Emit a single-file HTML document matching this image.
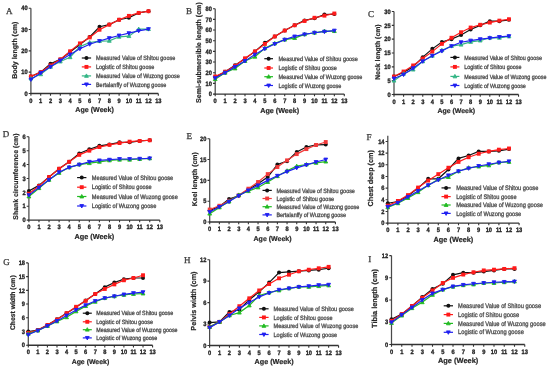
<!DOCTYPE html>
<html><head><meta charset="utf-8"><style>
html,body{margin:0;padding:0;background:#fff;width:550px;height:368px;overflow:hidden}
svg{display:block;filter:blur(0.3px)}
text{text-rendering:geometricPrecision}
.tk{font-family:"Liberation Sans",sans-serif;font-weight:bold;font-size:5.7px;fill:#262626;stroke:#262626;stroke-width:0.3px}
.al{font-family:"Liberation Sans",sans-serif;font-weight:bold;font-size:7.1px;fill:#262626;stroke:#262626;stroke-width:0.2px}
.lg{font-family:"Liberation Sans",sans-serif;font-size:5.5px;fill:#525252;stroke:#525252;stroke-width:0.3px}
.lt{font-family:"Liberation Serif",serif;font-size:9px;fill:#404040;stroke:#404040;stroke-width:0.3px}
</style></head><body>
<svg width="550" height="368" viewBox="0 0 550 368">
<rect width="550" height="368" fill="#fff"/>
<path d="M30.9,8.2V93.5" fill="none" stroke="#4a4a4a" stroke-width="1.25"/>
<path d="M30.3,93.5H158.3" fill="none" stroke="#333333" stroke-width="1.4"/>
<path d="M28.7,93.5H30.9M28.7,72.17H30.9M28.7,50.85H30.9M28.7,29.53H30.9M28.7,8.2H30.9M30.9,93.5V95.7M40.7,93.5V95.7M50.5,93.5V95.7M60.3,93.5V95.7M70.1,93.5V95.7M79.9,93.5V95.7M89.7,93.5V95.7M99.5,93.5V95.7M109.3,93.5V95.7M119.1,93.5V95.7M128.9,93.5V95.7M138.7,93.5V95.7M148.5,93.5V95.7M158.3,93.5V95.7" fill="none" stroke="#333333" stroke-width="1.1"/>
<text transform="translate(27.6,95.7) scale(1,1.12)" class="tk" text-anchor="end">0</text>
<text transform="translate(27.6,74.38) scale(1,1.12)" class="tk" text-anchor="end">10</text>
<text transform="translate(27.6,53.05) scale(1,1.12)" class="tk" text-anchor="end">20</text>
<text transform="translate(27.6,31.73) scale(1,1.12)" class="tk" text-anchor="end">30</text>
<text transform="translate(27.6,10.4) scale(1,1.12)" class="tk" text-anchor="end">40</text>
<text transform="translate(30.9,102.7) scale(1,1.12)" class="tk" text-anchor="middle">0</text>
<text transform="translate(40.7,102.7) scale(1,1.12)" class="tk" text-anchor="middle">1</text>
<text transform="translate(50.5,102.7) scale(1,1.12)" class="tk" text-anchor="middle">2</text>
<text transform="translate(60.3,102.7) scale(1,1.12)" class="tk" text-anchor="middle">3</text>
<text transform="translate(70.1,102.7) scale(1,1.12)" class="tk" text-anchor="middle">4</text>
<text transform="translate(79.9,102.7) scale(1,1.12)" class="tk" text-anchor="middle">5</text>
<text transform="translate(89.7,102.7) scale(1,1.12)" class="tk" text-anchor="middle">6</text>
<text transform="translate(99.5,102.7) scale(1,1.12)" class="tk" text-anchor="middle">7</text>
<text transform="translate(109.3,102.7) scale(1,1.12)" class="tk" text-anchor="middle">8</text>
<text transform="translate(119.1,102.7) scale(1,1.12)" class="tk" text-anchor="middle">9</text>
<text transform="translate(128.9,102.7) scale(1,1.12)" class="tk" text-anchor="middle">10</text>
<text transform="translate(138.7,102.7) scale(1,1.12)" class="tk" text-anchor="middle">11</text>
<text transform="translate(148.5,102.7) scale(1,1.12)" class="tk" text-anchor="middle">12</text>
<text transform="translate(158.3,102.7) scale(1,1.12)" class="tk" text-anchor="middle">13</text>
<text x="94.6" y="112" class="al" text-anchor="middle" style="font-size:7.10px">Age (Week)</text>
<text transform="translate(17.3,50.2) rotate(-90)" class="al" text-anchor="middle" style="font-size:7.0px">Body length (cm)</text>
<text x="6" y="13.6" class="lt">A</text>
<polyline points="30.9,76.44 40.7,72.17 50.5,63.65 60.3,59.38 70.1,51.92 79.9,44.45 89.7,36.99 99.5,26.75 109.3,24.62 119.1,19.72 128.9,17.8 138.7,12.89 148.5,11.19" fill="none" stroke="#111111" stroke-width="1.2"/>
<circle cx="30.9" cy="76.44" r="2" fill="#111111"/>
<circle cx="40.7" cy="72.17" r="2" fill="#111111"/>
<circle cx="50.5" cy="63.65" r="2" fill="#111111"/>
<circle cx="60.3" cy="59.38" r="2" fill="#111111"/>
<circle cx="70.1" cy="51.92" r="2" fill="#111111"/>
<circle cx="79.9" cy="44.45" r="2" fill="#111111"/>
<circle cx="89.7" cy="36.99" r="2" fill="#111111"/>
<circle cx="99.5" cy="26.75" r="2" fill="#111111"/>
<circle cx="109.3" cy="24.62" r="2" fill="#111111"/>
<circle cx="119.1" cy="19.72" r="2" fill="#111111"/>
<circle cx="128.9" cy="17.8" r="2" fill="#111111"/>
<circle cx="138.7" cy="12.89" r="2" fill="#111111"/>
<circle cx="148.5" cy="11.19" r="2" fill="#111111"/>
<polyline points="30.9,76.44 40.7,72.17 50.5,65.35 60.3,59.38 70.1,51.28 79.9,43.39 89.7,37.42 99.5,29.74 109.3,24.62 119.1,19.72 128.9,15.88 138.7,12.89 148.5,11.19" fill="none" stroke="#ff1a1a" stroke-width="1.2"/>
<rect x="28.95" y="74.49" width="3.9" height="3.9" fill="#ff1a1a"/>
<rect x="38.75" y="70.22" width="3.9" height="3.9" fill="#ff1a1a"/>
<rect x="48.55" y="63.4" width="3.9" height="3.9" fill="#ff1a1a"/>
<rect x="58.35" y="57.43" width="3.9" height="3.9" fill="#ff1a1a"/>
<rect x="68.15" y="49.33" width="3.9" height="3.9" fill="#ff1a1a"/>
<rect x="77.95" y="41.44" width="3.9" height="3.9" fill="#ff1a1a"/>
<rect x="87.75" y="35.47" width="3.9" height="3.9" fill="#ff1a1a"/>
<rect x="97.55" y="27.79" width="3.9" height="3.9" fill="#ff1a1a"/>
<rect x="107.35" y="22.67" width="3.9" height="3.9" fill="#ff1a1a"/>
<rect x="117.15" y="17.77" width="3.9" height="3.9" fill="#ff1a1a"/>
<rect x="126.95" y="13.93" width="3.9" height="3.9" fill="#ff1a1a"/>
<rect x="136.75" y="10.94" width="3.9" height="3.9" fill="#ff1a1a"/>
<rect x="146.55" y="9.24" width="3.9" height="3.9" fill="#ff1a1a"/>
<polyline points="30.9,78.57 40.7,74.31 50.5,66.84 60.3,61.51 70.1,57.25 79.9,46.59 89.7,42.53 99.5,41.04 109.3,40.83 119.1,36.78 128.9,36.14 138.7,29.1 148.5,29.1" fill="none" stroke="#33b585" stroke-width="1.2"/>
<polygon points="30.9,76.58 32.8,80 29,80" fill="#33b585" stroke="#33b585" stroke-width="0.9" stroke-linejoin="round"/>
<polygon points="40.7,72.31 42.6,75.73 38.8,75.73" fill="#33b585" stroke="#33b585" stroke-width="0.9" stroke-linejoin="round"/>
<polygon points="50.5,64.85 52.4,68.27 48.6,68.27" fill="#33b585" stroke="#33b585" stroke-width="0.9" stroke-linejoin="round"/>
<polygon points="60.3,59.52 62.2,62.94 58.4,62.94" fill="#33b585" stroke="#33b585" stroke-width="0.9" stroke-linejoin="round"/>
<polygon points="70.1,55.25 72,58.67 68.2,58.67" fill="#33b585" stroke="#33b585" stroke-width="0.9" stroke-linejoin="round"/>
<polygon points="79.9,44.59 81.8,48.01 78,48.01" fill="#33b585" stroke="#33b585" stroke-width="0.9" stroke-linejoin="round"/>
<polygon points="89.7,40.54 91.6,43.96 87.8,43.96" fill="#33b585" stroke="#33b585" stroke-width="0.9" stroke-linejoin="round"/>
<polygon points="99.5,39.05 101.4,42.47 97.6,42.47" fill="#33b585" stroke="#33b585" stroke-width="0.9" stroke-linejoin="round"/>
<polygon points="109.3,38.83 111.2,42.25 107.4,42.25" fill="#33b585" stroke="#33b585" stroke-width="0.9" stroke-linejoin="round"/>
<polygon points="119.1,34.78 121,38.2 117.2,38.2" fill="#33b585" stroke="#33b585" stroke-width="0.9" stroke-linejoin="round"/>
<polygon points="128.9,34.14 130.8,37.56 127,37.56" fill="#33b585" stroke="#33b585" stroke-width="0.9" stroke-linejoin="round"/>
<polygon points="138.7,27.1 140.6,30.52 136.8,30.52" fill="#33b585" stroke="#33b585" stroke-width="0.9" stroke-linejoin="round"/>
<polygon points="148.5,27.1 150.4,30.52 146.6,30.52" fill="#33b585" stroke="#33b585" stroke-width="0.9" stroke-linejoin="round"/>
<polyline points="30.9,79.43 40.7,73.03 50.5,66.84 60.3,60.45 70.1,54.48 79.9,48.72 89.7,44.24 99.5,41.04 109.3,38.06 119.1,35.5 128.9,33.15 138.7,30.8 148.5,29.1" fill="none" stroke="#2020f0" stroke-width="1.2"/>
<polygon points="30.9,81.42 32.8,78 29,78" fill="#2020f0" stroke="#2020f0" stroke-width="0.9" stroke-linejoin="round"/>
<polygon points="40.7,75.02 42.6,71.6 38.8,71.6" fill="#2020f0" stroke="#2020f0" stroke-width="0.9" stroke-linejoin="round"/>
<polygon points="50.5,68.84 52.4,65.42 48.6,65.42" fill="#2020f0" stroke="#2020f0" stroke-width="0.9" stroke-linejoin="round"/>
<polygon points="60.3,62.44 62.2,59.02 58.4,59.02" fill="#2020f0" stroke="#2020f0" stroke-width="0.9" stroke-linejoin="round"/>
<polygon points="70.1,56.47 72,53.05 68.2,53.05" fill="#2020f0" stroke="#2020f0" stroke-width="0.9" stroke-linejoin="round"/>
<polygon points="79.9,50.71 81.8,47.29 78,47.29" fill="#2020f0" stroke="#2020f0" stroke-width="0.9" stroke-linejoin="round"/>
<polygon points="89.7,46.23 91.6,42.81 87.8,42.81" fill="#2020f0" stroke="#2020f0" stroke-width="0.9" stroke-linejoin="round"/>
<polygon points="99.5,43.04 101.4,39.62 97.6,39.62" fill="#2020f0" stroke="#2020f0" stroke-width="0.9" stroke-linejoin="round"/>
<polygon points="109.3,40.05 111.2,36.63 107.4,36.63" fill="#2020f0" stroke="#2020f0" stroke-width="0.9" stroke-linejoin="round"/>
<polygon points="119.1,37.49 121,34.07 117.2,34.07" fill="#2020f0" stroke="#2020f0" stroke-width="0.9" stroke-linejoin="round"/>
<polygon points="128.9,35.15 130.8,31.73 127,31.73" fill="#2020f0" stroke="#2020f0" stroke-width="0.9" stroke-linejoin="round"/>
<polygon points="138.7,32.8 140.6,29.38 136.8,29.38" fill="#2020f0" stroke="#2020f0" stroke-width="0.9" stroke-linejoin="round"/>
<polygon points="148.5,31.09 150.4,27.67 146.6,27.67" fill="#2020f0" stroke="#2020f0" stroke-width="0.9" stroke-linejoin="round"/>
<path d="M81.8,58H91.1" stroke="#111111" stroke-width="1.2"/>
<circle cx="86.45" cy="58" r="2" fill="#111111"/>
<text transform="translate(95.9,60.1) scale(1,1.13)" class="lg" style="font-size:5.5px">Measured Value of Shitou goose</text>
<path d="M81.8,66.9H91.1" stroke="#ff1a1a" stroke-width="1.2"/>
<rect x="84.5" y="64.95" width="3.9" height="3.9" fill="#ff1a1a"/>
<text transform="translate(95.9,69) scale(1,1.13)" class="lg" style="font-size:5.5px">Logistic of Shitou goose</text>
<path d="M81.8,75.9H91.1" stroke="#33b585" stroke-width="1.2"/>
<polygon points="86.45,73.91 88.35,77.33 84.55,77.33" fill="#33b585" stroke="#33b585" stroke-width="0.9" stroke-linejoin="round"/>
<text transform="translate(95.9,78) scale(1,1.13)" class="lg" style="font-size:5.5px">Measured Value of Wuzong goose</text>
<path d="M81.8,84.4H91.1" stroke="#2020f0" stroke-width="1.2"/>
<polygon points="86.45,86.4 88.35,82.98 84.55,82.98" fill="#2020f0" stroke="#2020f0" stroke-width="0.9" stroke-linejoin="round"/>
<text transform="translate(95.9,86.5) scale(1,1.13)" class="lg" style="font-size:5.5px">Bertalanffy of Wuzong goose</text>
<path d="M215.2,8.7V94.1" fill="none" stroke="#4a4a4a" stroke-width="1.25"/>
<path d="M214.6,94.1H344.29" fill="none" stroke="#333333" stroke-width="1.4"/>
<path d="M213,94.1H215.2M213,83.42H215.2M213,72.75H215.2M213,62.07H215.2M213,51.4H215.2M213,40.73H215.2M213,30.05H215.2M213,19.38H215.2M213,8.7H215.2M215.2,94.1V96.3M225.13,94.1V96.3M235.06,94.1V96.3M244.99,94.1V96.3M254.92,94.1V96.3M264.85,94.1V96.3M274.78,94.1V96.3M284.71,94.1V96.3M294.64,94.1V96.3M304.57,94.1V96.3M314.5,94.1V96.3M324.43,94.1V96.3M334.36,94.1V96.3M344.29,94.1V96.3" fill="none" stroke="#333333" stroke-width="1.1"/>
<text transform="translate(211.9,96.3) scale(1,1.12)" class="tk" text-anchor="end">0</text>
<text transform="translate(211.9,85.62) scale(1,1.12)" class="tk" text-anchor="end">10</text>
<text transform="translate(211.9,74.95) scale(1,1.12)" class="tk" text-anchor="end">20</text>
<text transform="translate(211.9,64.27) scale(1,1.12)" class="tk" text-anchor="end">30</text>
<text transform="translate(211.9,53.6) scale(1,1.12)" class="tk" text-anchor="end">40</text>
<text transform="translate(211.9,42.93) scale(1,1.12)" class="tk" text-anchor="end">50</text>
<text transform="translate(211.9,32.25) scale(1,1.12)" class="tk" text-anchor="end">60</text>
<text transform="translate(211.9,21.57) scale(1,1.12)" class="tk" text-anchor="end">70</text>
<text transform="translate(211.9,10.9) scale(1,1.12)" class="tk" text-anchor="end">80</text>
<text transform="translate(215.2,103.3) scale(1,1.12)" class="tk" text-anchor="middle">0</text>
<text transform="translate(225.13,103.3) scale(1,1.12)" class="tk" text-anchor="middle">1</text>
<text transform="translate(235.06,103.3) scale(1,1.12)" class="tk" text-anchor="middle">2</text>
<text transform="translate(244.99,103.3) scale(1,1.12)" class="tk" text-anchor="middle">3</text>
<text transform="translate(254.92,103.3) scale(1,1.12)" class="tk" text-anchor="middle">4</text>
<text transform="translate(264.85,103.3) scale(1,1.12)" class="tk" text-anchor="middle">5</text>
<text transform="translate(274.78,103.3) scale(1,1.12)" class="tk" text-anchor="middle">6</text>
<text transform="translate(284.71,103.3) scale(1,1.12)" class="tk" text-anchor="middle">7</text>
<text transform="translate(294.64,103.3) scale(1,1.12)" class="tk" text-anchor="middle">8</text>
<text transform="translate(304.57,103.3) scale(1,1.12)" class="tk" text-anchor="middle">9</text>
<text transform="translate(314.5,103.3) scale(1,1.12)" class="tk" text-anchor="middle">10</text>
<text transform="translate(324.43,103.3) scale(1,1.12)" class="tk" text-anchor="middle">11</text>
<text transform="translate(334.36,103.3) scale(1,1.12)" class="tk" text-anchor="middle">12</text>
<text transform="translate(344.29,103.3) scale(1,1.12)" class="tk" text-anchor="middle">13</text>
<text x="279.75" y="112.6" class="al" text-anchor="middle" style="font-size:7.19px">Age (Week)</text>
<text transform="translate(200.8,52.6) rotate(-90)" class="al" text-anchor="middle" style="font-size:7.05px">Semi-submersible length (cm)</text>
<text x="186" y="14.1" class="lt">B</text>
<polyline points="215.2,77.02 225.13,71.68 235.06,65.28 244.99,58.87 254.92,51.4 264.85,42.86 274.78,36.45 284.71,30.58 294.64,25.25 304.57,20.44 314.5,18.31 324.43,14.57 334.36,14.04" fill="none" stroke="#111111" stroke-width="1.2"/>
<circle cx="215.2" cy="77.02" r="2" fill="#111111"/>
<circle cx="225.13" cy="71.68" r="2" fill="#111111"/>
<circle cx="235.06" cy="65.28" r="2" fill="#111111"/>
<circle cx="244.99" cy="58.87" r="2" fill="#111111"/>
<circle cx="254.92" cy="51.4" r="2" fill="#111111"/>
<circle cx="264.85" cy="42.86" r="2" fill="#111111"/>
<circle cx="274.78" cy="36.45" r="2" fill="#111111"/>
<circle cx="284.71" cy="30.58" r="2" fill="#111111"/>
<circle cx="294.64" cy="25.25" r="2" fill="#111111"/>
<circle cx="304.57" cy="20.44" r="2" fill="#111111"/>
<circle cx="314.5" cy="18.31" r="2" fill="#111111"/>
<circle cx="324.43" cy="14.57" r="2" fill="#111111"/>
<circle cx="334.36" cy="14.04" r="2" fill="#111111"/>
<polyline points="215.2,76.49 225.13,71.68 235.06,65.81 244.99,58.34 254.92,51.4 264.85,43.93 274.78,36.45 284.71,30.58 294.64,25.25 304.57,20.98 314.5,17.77 324.43,15.64 334.36,13.5" fill="none" stroke="#ff1a1a" stroke-width="1.2"/>
<rect x="213.25" y="74.54" width="3.9" height="3.9" fill="#ff1a1a"/>
<rect x="223.18" y="69.73" width="3.9" height="3.9" fill="#ff1a1a"/>
<rect x="233.11" y="63.86" width="3.9" height="3.9" fill="#ff1a1a"/>
<rect x="243.04" y="56.39" width="3.9" height="3.9" fill="#ff1a1a"/>
<rect x="252.97" y="49.45" width="3.9" height="3.9" fill="#ff1a1a"/>
<rect x="262.9" y="41.98" width="3.9" height="3.9" fill="#ff1a1a"/>
<rect x="272.83" y="34.5" width="3.9" height="3.9" fill="#ff1a1a"/>
<rect x="282.76" y="28.63" width="3.9" height="3.9" fill="#ff1a1a"/>
<rect x="292.69" y="23.3" width="3.9" height="3.9" fill="#ff1a1a"/>
<rect x="302.62" y="19.03" width="3.9" height="3.9" fill="#ff1a1a"/>
<rect x="312.55" y="15.82" width="3.9" height="3.9" fill="#ff1a1a"/>
<rect x="322.48" y="13.69" width="3.9" height="3.9" fill="#ff1a1a"/>
<rect x="332.41" y="11.55" width="3.9" height="3.9" fill="#ff1a1a"/>
<polyline points="215.2,79.16 225.13,72.75 235.06,68.48 244.99,61.01 254.92,56.74 264.85,48.2 274.78,43.39 284.71,39.66 294.64,38.06 304.57,34.32 314.5,32.72 324.43,31.12 334.36,31.12" fill="none" stroke="#22bb22" stroke-width="1.2"/>
<polygon points="215.2,77.16 217.1,80.58 213.3,80.58" fill="#22bb22" stroke="#22bb22" stroke-width="0.9" stroke-linejoin="round"/>
<polygon points="225.13,70.75 227.03,74.17 223.23,74.17" fill="#22bb22" stroke="#22bb22" stroke-width="0.9" stroke-linejoin="round"/>
<polygon points="235.06,66.48 236.96,69.9 233.16,69.9" fill="#22bb22" stroke="#22bb22" stroke-width="0.9" stroke-linejoin="round"/>
<polygon points="244.99,59.01 246.89,62.43 243.09,62.43" fill="#22bb22" stroke="#22bb22" stroke-width="0.9" stroke-linejoin="round"/>
<polygon points="254.92,54.74 256.82,58.16 253.02,58.16" fill="#22bb22" stroke="#22bb22" stroke-width="0.9" stroke-linejoin="round"/>
<polygon points="264.85,46.2 266.75,49.62 262.95,49.62" fill="#22bb22" stroke="#22bb22" stroke-width="0.9" stroke-linejoin="round"/>
<polygon points="274.78,41.4 276.68,44.82 272.88,44.82" fill="#22bb22" stroke="#22bb22" stroke-width="0.9" stroke-linejoin="round"/>
<polygon points="284.71,37.66 286.61,41.08 282.81,41.08" fill="#22bb22" stroke="#22bb22" stroke-width="0.9" stroke-linejoin="round"/>
<polygon points="294.64,36.06 296.54,39.48 292.74,39.48" fill="#22bb22" stroke="#22bb22" stroke-width="0.9" stroke-linejoin="round"/>
<polygon points="304.57,32.33 306.47,35.74 302.67,35.74" fill="#22bb22" stroke="#22bb22" stroke-width="0.9" stroke-linejoin="round"/>
<polygon points="314.5,30.72 316.4,34.14 312.6,34.14" fill="#22bb22" stroke="#22bb22" stroke-width="0.9" stroke-linejoin="round"/>
<polygon points="324.43,29.12 326.33,32.54 322.53,32.54" fill="#22bb22" stroke="#22bb22" stroke-width="0.9" stroke-linejoin="round"/>
<polygon points="334.36,29.12 336.26,32.54 332.46,32.54" fill="#22bb22" stroke="#22bb22" stroke-width="0.9" stroke-linejoin="round"/>
<polyline points="215.2,78.09 225.13,72.75 235.06,66.88 244.99,61.01 254.92,54.6 264.85,48.73 274.78,43.93 284.71,39.66 294.64,36.45 304.57,34.32 314.5,32.72 324.43,31.65 334.36,30.58" fill="none" stroke="#2020f0" stroke-width="1.2"/>
<polygon points="215.2,80.08 217.1,76.66 213.3,76.66" fill="#2020f0" stroke="#2020f0" stroke-width="0.9" stroke-linejoin="round"/>
<polygon points="225.13,74.75 227.03,71.33 223.23,71.33" fill="#2020f0" stroke="#2020f0" stroke-width="0.9" stroke-linejoin="round"/>
<polygon points="235.06,68.87 236.96,65.45 233.16,65.45" fill="#2020f0" stroke="#2020f0" stroke-width="0.9" stroke-linejoin="round"/>
<polygon points="244.99,63 246.89,59.58 243.09,59.58" fill="#2020f0" stroke="#2020f0" stroke-width="0.9" stroke-linejoin="round"/>
<polygon points="254.92,56.6 256.82,53.18 253.02,53.18" fill="#2020f0" stroke="#2020f0" stroke-width="0.9" stroke-linejoin="round"/>
<polygon points="264.85,50.73 266.75,47.31 262.95,47.31" fill="#2020f0" stroke="#2020f0" stroke-width="0.9" stroke-linejoin="round"/>
<polygon points="274.78,45.92 276.68,42.5 272.88,42.5" fill="#2020f0" stroke="#2020f0" stroke-width="0.9" stroke-linejoin="round"/>
<polygon points="284.71,41.65 286.61,38.23 282.81,38.23" fill="#2020f0" stroke="#2020f0" stroke-width="0.9" stroke-linejoin="round"/>
<polygon points="294.64,38.45 296.54,35.03 292.74,35.03" fill="#2020f0" stroke="#2020f0" stroke-width="0.9" stroke-linejoin="round"/>
<polygon points="304.57,36.31 306.47,32.9 302.67,32.9" fill="#2020f0" stroke="#2020f0" stroke-width="0.9" stroke-linejoin="round"/>
<polygon points="314.5,34.71 316.4,31.29 312.6,31.29" fill="#2020f0" stroke="#2020f0" stroke-width="0.9" stroke-linejoin="round"/>
<polygon points="324.43,33.65 326.33,30.23 322.53,30.23" fill="#2020f0" stroke="#2020f0" stroke-width="0.9" stroke-linejoin="round"/>
<polygon points="334.36,32.58 336.26,29.16 332.46,29.16" fill="#2020f0" stroke="#2020f0" stroke-width="0.9" stroke-linejoin="round"/>
<path d="M264.3,58.7H273" stroke="#111111" stroke-width="1.2"/>
<circle cx="268.65" cy="58.7" r="2" fill="#111111"/>
<text transform="translate(278.5,60.8) scale(1,1.13)" class="lg" style="font-size:5.5px">Measured Value of Shitou goose</text>
<path d="M264.3,68H273" stroke="#ff1a1a" stroke-width="1.2"/>
<rect x="266.7" y="66.05" width="3.9" height="3.9" fill="#ff1a1a"/>
<text transform="translate(278.5,70.1) scale(1,1.13)" class="lg" style="font-size:5.5px">Logistic of Shitou goose</text>
<path d="M264.3,76.7H273" stroke="#22bb22" stroke-width="1.2"/>
<polygon points="268.65,74.7 270.55,78.12 266.75,78.12" fill="#22bb22" stroke="#22bb22" stroke-width="0.9" stroke-linejoin="round"/>
<text transform="translate(278.5,78.8) scale(1,1.13)" class="lg" style="font-size:5.5px">Measured Value of Wuzong goose</text>
<path d="M264.3,85.5H273" stroke="#2020f0" stroke-width="1.2"/>
<polygon points="268.65,87.5 270.55,84.08 266.75,84.08" fill="#2020f0" stroke="#2020f0" stroke-width="0.9" stroke-linejoin="round"/>
<text transform="translate(278.5,87.6) scale(1,1.13)" class="lg" style="font-size:5.5px">Logistic of Wuzong goose</text>
<path d="M394,11.5V94.5" fill="none" stroke="#4a4a4a" stroke-width="1.25"/>
<path d="M393.4,94.5H518.54" fill="none" stroke="#333333" stroke-width="1.4"/>
<path d="M391.8,94.5H394M391.8,80.67H394M391.8,66.83H394M391.8,53H394M391.8,39.17H394M391.8,25.33H394M391.8,11.5H394M394,94.5V96.7M403.58,94.5V96.7M413.16,94.5V96.7M422.74,94.5V96.7M432.32,94.5V96.7M441.9,94.5V96.7M451.48,94.5V96.7M461.06,94.5V96.7M470.64,94.5V96.7M480.22,94.5V96.7M489.8,94.5V96.7M499.38,94.5V96.7M508.96,94.5V96.7M518.54,94.5V96.7" fill="none" stroke="#333333" stroke-width="1.1"/>
<text transform="translate(390.7,96.7) scale(1,1.12)" class="tk" text-anchor="end">0</text>
<text transform="translate(390.7,82.87) scale(1,1.12)" class="tk" text-anchor="end">5</text>
<text transform="translate(390.7,69.03) scale(1,1.12)" class="tk" text-anchor="end">10</text>
<text transform="translate(390.7,55.2) scale(1,1.12)" class="tk" text-anchor="end">15</text>
<text transform="translate(390.7,41.37) scale(1,1.12)" class="tk" text-anchor="end">20</text>
<text transform="translate(390.7,27.53) scale(1,1.12)" class="tk" text-anchor="end">25</text>
<text transform="translate(390.7,13.7) scale(1,1.12)" class="tk" text-anchor="end">30</text>
<text transform="translate(394,103.7) scale(1,1.12)" class="tk" text-anchor="middle">0</text>
<text transform="translate(403.58,103.7) scale(1,1.12)" class="tk" text-anchor="middle">1</text>
<text transform="translate(413.16,103.7) scale(1,1.12)" class="tk" text-anchor="middle">2</text>
<text transform="translate(422.74,103.7) scale(1,1.12)" class="tk" text-anchor="middle">3</text>
<text transform="translate(432.32,103.7) scale(1,1.12)" class="tk" text-anchor="middle">4</text>
<text transform="translate(441.9,103.7) scale(1,1.12)" class="tk" text-anchor="middle">5</text>
<text transform="translate(451.48,103.7) scale(1,1.12)" class="tk" text-anchor="middle">6</text>
<text transform="translate(461.06,103.7) scale(1,1.12)" class="tk" text-anchor="middle">7</text>
<text transform="translate(470.64,103.7) scale(1,1.12)" class="tk" text-anchor="middle">8</text>
<text transform="translate(480.22,103.7) scale(1,1.12)" class="tk" text-anchor="middle">9</text>
<text transform="translate(489.8,103.7) scale(1,1.12)" class="tk" text-anchor="middle">10</text>
<text transform="translate(499.38,103.7) scale(1,1.12)" class="tk" text-anchor="middle">11</text>
<text transform="translate(508.96,103.7) scale(1,1.12)" class="tk" text-anchor="middle">12</text>
<text transform="translate(518.54,103.7) scale(1,1.12)" class="tk" text-anchor="middle">13</text>
<text x="456.27" y="113" class="al" text-anchor="middle" style="font-size:6.94px">Age (Week)</text>
<text transform="translate(380.2,52.1) rotate(-90)" class="al" text-anchor="middle" style="font-size:6.9px">Neck length (cm)</text>
<text x="368" y="17.4" class="lt">C</text>
<polyline points="394,76.52 403.58,72.37 413.16,66.83 422.74,57.15 432.32,48.85 441.9,41.93 451.48,39.17 461.06,35.02 470.64,29.48 480.22,25.33 489.8,21.18 499.38,21.18 508.96,19.8" fill="none" stroke="#111111" stroke-width="1.2"/>
<circle cx="394" cy="76.52" r="2" fill="#111111"/>
<circle cx="403.58" cy="72.37" r="2" fill="#111111"/>
<circle cx="413.16" cy="66.83" r="2" fill="#111111"/>
<circle cx="422.74" cy="57.15" r="2" fill="#111111"/>
<circle cx="432.32" cy="48.85" r="2" fill="#111111"/>
<circle cx="441.9" cy="41.93" r="2" fill="#111111"/>
<circle cx="451.48" cy="39.17" r="2" fill="#111111"/>
<circle cx="461.06" cy="35.02" r="2" fill="#111111"/>
<circle cx="470.64" cy="29.48" r="2" fill="#111111"/>
<circle cx="480.22" cy="25.33" r="2" fill="#111111"/>
<circle cx="489.8" cy="21.18" r="2" fill="#111111"/>
<circle cx="499.38" cy="21.18" r="2" fill="#111111"/>
<circle cx="508.96" cy="19.8" r="2" fill="#111111"/>
<polyline points="394,76.52 403.58,71.54 413.16,65.45 422.74,58.53 432.32,51.62 441.9,43.87 451.48,37.78 461.06,32.25 470.64,27.55 480.22,24.78 489.8,22.57 499.38,20.63 508.96,19.25" fill="none" stroke="#ff1a1a" stroke-width="1.2"/>
<rect x="392.05" y="74.57" width="3.9" height="3.9" fill="#ff1a1a"/>
<rect x="401.63" y="69.59" width="3.9" height="3.9" fill="#ff1a1a"/>
<rect x="411.21" y="63.5" width="3.9" height="3.9" fill="#ff1a1a"/>
<rect x="420.79" y="56.58" width="3.9" height="3.9" fill="#ff1a1a"/>
<rect x="430.37" y="49.67" width="3.9" height="3.9" fill="#ff1a1a"/>
<rect x="439.95" y="41.92" width="3.9" height="3.9" fill="#ff1a1a"/>
<rect x="449.53" y="35.83" width="3.9" height="3.9" fill="#ff1a1a"/>
<rect x="459.11" y="30.3" width="3.9" height="3.9" fill="#ff1a1a"/>
<rect x="468.69" y="25.6" width="3.9" height="3.9" fill="#ff1a1a"/>
<rect x="478.27" y="22.83" width="3.9" height="3.9" fill="#ff1a1a"/>
<rect x="487.85" y="20.62" width="3.9" height="3.9" fill="#ff1a1a"/>
<rect x="497.43" y="18.68" width="3.9" height="3.9" fill="#ff1a1a"/>
<rect x="507.01" y="17.3" width="3.9" height="3.9" fill="#ff1a1a"/>
<polyline points="394,80.67 403.58,73.75 413.16,69.6 422.74,61.3 432.32,55.77 441.9,50.23 451.48,46.08 461.06,44.7 470.64,41.93 480.22,40.55 489.8,37.78 499.38,37.78 508.96,36.4" fill="none" stroke="#33b585" stroke-width="1.2"/>
<polygon points="394,78.67 395.9,82.09 392.1,82.09" fill="#33b585" stroke="#33b585" stroke-width="0.9" stroke-linejoin="round"/>
<polygon points="403.58,71.75 405.48,75.17 401.68,75.17" fill="#33b585" stroke="#33b585" stroke-width="0.9" stroke-linejoin="round"/>
<polygon points="413.16,67.6 415.06,71.02 411.26,71.02" fill="#33b585" stroke="#33b585" stroke-width="0.9" stroke-linejoin="round"/>
<polygon points="422.74,59.3 424.64,62.72 420.84,62.72" fill="#33b585" stroke="#33b585" stroke-width="0.9" stroke-linejoin="round"/>
<polygon points="432.32,53.77 434.22,57.19 430.42,57.19" fill="#33b585" stroke="#33b585" stroke-width="0.9" stroke-linejoin="round"/>
<polygon points="441.9,48.24 443.8,51.66 440,51.66" fill="#33b585" stroke="#33b585" stroke-width="0.9" stroke-linejoin="round"/>
<polygon points="451.48,44.09 453.38,47.51 449.58,47.51" fill="#33b585" stroke="#33b585" stroke-width="0.9" stroke-linejoin="round"/>
<polygon points="461.06,42.71 462.96,46.12 459.16,46.12" fill="#33b585" stroke="#33b585" stroke-width="0.9" stroke-linejoin="round"/>
<polygon points="470.64,39.94 472.54,43.36 468.74,43.36" fill="#33b585" stroke="#33b585" stroke-width="0.9" stroke-linejoin="round"/>
<polygon points="480.22,38.56 482.12,41.98 478.32,41.98" fill="#33b585" stroke="#33b585" stroke-width="0.9" stroke-linejoin="round"/>
<polygon points="489.8,35.79 491.7,39.21 487.9,39.21" fill="#33b585" stroke="#33b585" stroke-width="0.9" stroke-linejoin="round"/>
<polygon points="499.38,35.79 501.28,39.21 497.48,39.21" fill="#33b585" stroke="#33b585" stroke-width="0.9" stroke-linejoin="round"/>
<polygon points="508.96,34.41 510.86,37.82 507.06,37.82" fill="#33b585" stroke="#33b585" stroke-width="0.9" stroke-linejoin="round"/>
<polyline points="394,78.45 403.58,74.58 413.16,68.22 422.74,61.3 432.32,55.77 441.9,51.06 451.48,46.08 461.06,42.21 470.64,40.55 480.22,39.17 489.8,38.06 499.38,36.95 508.96,36.12" fill="none" stroke="#2020f0" stroke-width="1.2"/>
<polygon points="394,80.45 395.9,77.03 392.1,77.03" fill="#2020f0" stroke="#2020f0" stroke-width="0.9" stroke-linejoin="round"/>
<polygon points="403.58,76.58 405.48,73.16 401.68,73.16" fill="#2020f0" stroke="#2020f0" stroke-width="0.9" stroke-linejoin="round"/>
<polygon points="413.16,70.21 415.06,66.79 411.26,66.79" fill="#2020f0" stroke="#2020f0" stroke-width="0.9" stroke-linejoin="round"/>
<polygon points="422.74,63.29 424.64,59.88 420.84,59.88" fill="#2020f0" stroke="#2020f0" stroke-width="0.9" stroke-linejoin="round"/>
<polygon points="432.32,57.76 434.22,54.34 430.42,54.34" fill="#2020f0" stroke="#2020f0" stroke-width="0.9" stroke-linejoin="round"/>
<polygon points="441.9,53.06 443.8,49.64 440,49.64" fill="#2020f0" stroke="#2020f0" stroke-width="0.9" stroke-linejoin="round"/>
<polygon points="451.48,48.08 453.38,44.66 449.58,44.66" fill="#2020f0" stroke="#2020f0" stroke-width="0.9" stroke-linejoin="round"/>
<polygon points="461.06,44.21 462.96,40.79 459.16,40.79" fill="#2020f0" stroke="#2020f0" stroke-width="0.9" stroke-linejoin="round"/>
<polygon points="470.64,42.55 472.54,39.13 468.74,39.13" fill="#2020f0" stroke="#2020f0" stroke-width="0.9" stroke-linejoin="round"/>
<polygon points="480.22,41.16 482.12,37.74 478.32,37.74" fill="#2020f0" stroke="#2020f0" stroke-width="0.9" stroke-linejoin="round"/>
<polygon points="489.8,40.05 491.7,36.64 487.9,36.64" fill="#2020f0" stroke="#2020f0" stroke-width="0.9" stroke-linejoin="round"/>
<polygon points="499.38,38.95 501.28,35.53 497.48,35.53" fill="#2020f0" stroke="#2020f0" stroke-width="0.9" stroke-linejoin="round"/>
<polygon points="508.96,38.12 510.86,34.7 507.06,34.7" fill="#2020f0" stroke="#2020f0" stroke-width="0.9" stroke-linejoin="round"/>
<path d="M450.4,57.4H459.4" stroke="#111111" stroke-width="1.2"/>
<circle cx="454.9" cy="57.4" r="2" fill="#111111"/>
<text transform="translate(464.2,59.5) scale(1,1.13)" class="lg" style="font-size:5.4px">Measured Value of Shitou goose</text>
<path d="M450.4,66.9H459.4" stroke="#ff1a1a" stroke-width="1.2"/>
<rect x="452.95" y="64.95" width="3.9" height="3.9" fill="#ff1a1a"/>
<text transform="translate(464.2,69) scale(1,1.13)" class="lg" style="font-size:5.4px">Logistic of Shitou goose</text>
<path d="M450.4,76.4H459.4" stroke="#33b585" stroke-width="1.2"/>
<polygon points="454.9,74.41 456.8,77.83 453,77.83" fill="#33b585" stroke="#33b585" stroke-width="0.9" stroke-linejoin="round"/>
<text transform="translate(464.2,78.5) scale(1,1.13)" class="lg" style="font-size:5.4px">Measured Value of Wuzong goose</text>
<path d="M450.4,85.5H459.4" stroke="#2020f0" stroke-width="1.2"/>
<polygon points="454.9,87.5 456.8,84.08 453,84.08" fill="#2020f0" stroke="#2020f0" stroke-width="0.9" stroke-linejoin="round"/>
<text transform="translate(464.2,87.6) scale(1,1.13)" class="lg" style="font-size:5.4px">Logistic of Wuzong goose</text>
<path d="M28.9,136.8V220.1" fill="none" stroke="#4a4a4a" stroke-width="1.25"/>
<path d="M28.3,220.1H159.81" fill="none" stroke="#333333" stroke-width="1.4"/>
<path d="M26.7,220.1H28.9M26.7,206.22H28.9M26.7,192.33H28.9M26.7,178.45H28.9M26.7,164.57H28.9M26.7,150.68H28.9M26.7,136.8H28.9M28.9,220.1V222.3M38.97,220.1V222.3M49.04,220.1V222.3M59.11,220.1V222.3M69.18,220.1V222.3M79.25,220.1V222.3M89.32,220.1V222.3M99.39,220.1V222.3M109.46,220.1V222.3M119.53,220.1V222.3M129.6,220.1V222.3M139.67,220.1V222.3M149.74,220.1V222.3M159.81,220.1V222.3" fill="none" stroke="#333333" stroke-width="1.1"/>
<text transform="translate(25.6,222.3) scale(1,1.12)" class="tk" text-anchor="end">0</text>
<text transform="translate(25.6,208.42) scale(1,1.12)" class="tk" text-anchor="end">1</text>
<text transform="translate(25.6,194.53) scale(1,1.12)" class="tk" text-anchor="end">2</text>
<text transform="translate(25.6,180.65) scale(1,1.12)" class="tk" text-anchor="end">3</text>
<text transform="translate(25.6,166.77) scale(1,1.12)" class="tk" text-anchor="end">4</text>
<text transform="translate(25.6,152.88) scale(1,1.12)" class="tk" text-anchor="end">5</text>
<text transform="translate(25.6,139) scale(1,1.12)" class="tk" text-anchor="end">6</text>
<text transform="translate(28.9,229.3) scale(1,1.12)" class="tk" text-anchor="middle">0</text>
<text transform="translate(38.97,229.3) scale(1,1.12)" class="tk" text-anchor="middle">1</text>
<text transform="translate(49.04,229.3) scale(1,1.12)" class="tk" text-anchor="middle">2</text>
<text transform="translate(59.11,229.3) scale(1,1.12)" class="tk" text-anchor="middle">3</text>
<text transform="translate(69.18,229.3) scale(1,1.12)" class="tk" text-anchor="middle">4</text>
<text transform="translate(79.25,229.3) scale(1,1.12)" class="tk" text-anchor="middle">5</text>
<text transform="translate(89.32,229.3) scale(1,1.12)" class="tk" text-anchor="middle">6</text>
<text transform="translate(99.39,229.3) scale(1,1.12)" class="tk" text-anchor="middle">7</text>
<text transform="translate(109.46,229.3) scale(1,1.12)" class="tk" text-anchor="middle">8</text>
<text transform="translate(119.53,229.3) scale(1,1.12)" class="tk" text-anchor="middle">9</text>
<text transform="translate(129.6,229.3) scale(1,1.12)" class="tk" text-anchor="middle">10</text>
<text transform="translate(139.67,229.3) scale(1,1.12)" class="tk" text-anchor="middle">11</text>
<text transform="translate(149.74,229.3) scale(1,1.12)" class="tk" text-anchor="middle">12</text>
<text transform="translate(159.81,229.3) scale(1,1.12)" class="tk" text-anchor="middle">13</text>
<text x="94.35" y="238.6" class="al" text-anchor="middle" style="font-size:7.30px">Age (Week)</text>
<text transform="translate(18.2,176.6) rotate(-90)" class="al" text-anchor="middle" style="font-size:6.9px">Shank circumference (cm)</text>
<text x="2.7" y="137" class="lt">D</text>
<polyline points="28.9,190.94 38.97,185.39 49.04,177.06 59.11,168.73 69.18,161.79 79.25,153.46 89.32,149.3 99.39,145.82 109.46,144.44 119.53,142.35 129.6,142.35 139.67,140.97 149.74,140.27" fill="none" stroke="#111111" stroke-width="1.2"/>
<circle cx="28.9" cy="190.94" r="2" fill="#111111"/>
<circle cx="38.97" cy="185.39" r="2" fill="#111111"/>
<circle cx="49.04" cy="177.06" r="2" fill="#111111"/>
<circle cx="59.11" cy="168.73" r="2" fill="#111111"/>
<circle cx="69.18" cy="161.79" r="2" fill="#111111"/>
<circle cx="79.25" cy="153.46" r="2" fill="#111111"/>
<circle cx="89.32" cy="149.3" r="2" fill="#111111"/>
<circle cx="99.39" cy="145.82" r="2" fill="#111111"/>
<circle cx="109.46" cy="144.44" r="2" fill="#111111"/>
<circle cx="119.53" cy="142.35" r="2" fill="#111111"/>
<circle cx="129.6" cy="142.35" r="2" fill="#111111"/>
<circle cx="139.67" cy="140.97" r="2" fill="#111111"/>
<circle cx="149.74" cy="140.27" r="2" fill="#111111"/>
<polyline points="28.9,193.72 38.97,186.09 49.04,177.06 59.11,168.73 69.18,161.79 79.25,154.85 89.32,150.68 99.39,147.07 109.46,144.85 119.53,143.05 129.6,141.66 139.67,140.97 149.74,140.27" fill="none" stroke="#ff1a1a" stroke-width="1.2"/>
<rect x="26.95" y="191.77" width="3.9" height="3.9" fill="#ff1a1a"/>
<rect x="37.02" y="184.14" width="3.9" height="3.9" fill="#ff1a1a"/>
<rect x="47.09" y="175.11" width="3.9" height="3.9" fill="#ff1a1a"/>
<rect x="57.16" y="166.78" width="3.9" height="3.9" fill="#ff1a1a"/>
<rect x="67.23" y="159.84" width="3.9" height="3.9" fill="#ff1a1a"/>
<rect x="77.3" y="152.9" width="3.9" height="3.9" fill="#ff1a1a"/>
<rect x="87.37" y="148.73" width="3.9" height="3.9" fill="#ff1a1a"/>
<rect x="97.44" y="145.12" width="3.9" height="3.9" fill="#ff1a1a"/>
<rect x="107.51" y="142.9" width="3.9" height="3.9" fill="#ff1a1a"/>
<rect x="117.58" y="141.1" width="3.9" height="3.9" fill="#ff1a1a"/>
<rect x="127.65" y="139.71" width="3.9" height="3.9" fill="#ff1a1a"/>
<rect x="137.72" y="139.02" width="3.9" height="3.9" fill="#ff1a1a"/>
<rect x="147.79" y="138.32" width="3.9" height="3.9" fill="#ff1a1a"/>
<polyline points="28.9,196.5 38.97,188.17 49.04,179.84 59.11,172.9 69.18,167.34 79.25,164.57 89.32,163.18 99.39,161.79 109.46,160.4 119.53,159.71 129.6,159.71 139.67,159.01 149.74,158.32" fill="none" stroke="#22bb22" stroke-width="1.2"/>
<polygon points="28.9,194.5 30.8,197.92 27,197.92" fill="#22bb22" stroke="#22bb22" stroke-width="0.9" stroke-linejoin="round"/>
<polygon points="38.97,186.17 40.87,189.59 37.07,189.59" fill="#22bb22" stroke="#22bb22" stroke-width="0.9" stroke-linejoin="round"/>
<polygon points="49.04,177.84 50.94,181.26 47.14,181.26" fill="#22bb22" stroke="#22bb22" stroke-width="0.9" stroke-linejoin="round"/>
<polygon points="59.11,170.9 61.01,174.32 57.21,174.32" fill="#22bb22" stroke="#22bb22" stroke-width="0.9" stroke-linejoin="round"/>
<polygon points="69.18,165.35 71.08,168.77 67.28,168.77" fill="#22bb22" stroke="#22bb22" stroke-width="0.9" stroke-linejoin="round"/>
<polygon points="79.25,162.57 81.15,165.99 77.35,165.99" fill="#22bb22" stroke="#22bb22" stroke-width="0.9" stroke-linejoin="round"/>
<polygon points="89.32,161.18 91.22,164.6 87.42,164.6" fill="#22bb22" stroke="#22bb22" stroke-width="0.9" stroke-linejoin="round"/>
<polygon points="99.39,159.79 101.29,163.22 97.49,163.22" fill="#22bb22" stroke="#22bb22" stroke-width="0.9" stroke-linejoin="round"/>
<polygon points="109.46,158.41 111.36,161.83 107.56,161.83" fill="#22bb22" stroke="#22bb22" stroke-width="0.9" stroke-linejoin="round"/>
<polygon points="119.53,157.71 121.43,161.13 117.63,161.13" fill="#22bb22" stroke="#22bb22" stroke-width="0.9" stroke-linejoin="round"/>
<polygon points="129.6,157.71 131.5,161.13 127.7,161.13" fill="#22bb22" stroke="#22bb22" stroke-width="0.9" stroke-linejoin="round"/>
<polygon points="139.67,157.02 141.57,160.44 137.77,160.44" fill="#22bb22" stroke="#22bb22" stroke-width="0.9" stroke-linejoin="round"/>
<polygon points="149.74,156.32 151.64,159.74 147.84,159.74" fill="#22bb22" stroke="#22bb22" stroke-width="0.9" stroke-linejoin="round"/>
<polyline points="28.9,195.11 38.97,187.47 49.04,179.84 59.11,172.2 69.18,167.34 79.25,164.57 89.32,161.79 99.39,160.4 109.46,159.71 119.53,159.01 129.6,159.01 139.67,158.74 149.74,158.32" fill="none" stroke="#2020f0" stroke-width="1.2"/>
<polygon points="28.9,197.11 30.8,193.69 27,193.69" fill="#2020f0" stroke="#2020f0" stroke-width="0.9" stroke-linejoin="round"/>
<polygon points="38.97,189.47 40.87,186.05 37.07,186.05" fill="#2020f0" stroke="#2020f0" stroke-width="0.9" stroke-linejoin="round"/>
<polygon points="49.04,181.83 50.94,178.41 47.14,178.41" fill="#2020f0" stroke="#2020f0" stroke-width="0.9" stroke-linejoin="round"/>
<polygon points="59.11,174.2 61.01,170.78 57.21,170.78" fill="#2020f0" stroke="#2020f0" stroke-width="0.9" stroke-linejoin="round"/>
<polygon points="69.18,169.34 71.08,165.92 67.28,165.92" fill="#2020f0" stroke="#2020f0" stroke-width="0.9" stroke-linejoin="round"/>
<polygon points="79.25,166.56 81.15,163.14 77.35,163.14" fill="#2020f0" stroke="#2020f0" stroke-width="0.9" stroke-linejoin="round"/>
<polygon points="89.32,163.78 91.22,160.36 87.42,160.36" fill="#2020f0" stroke="#2020f0" stroke-width="0.9" stroke-linejoin="round"/>
<polygon points="99.39,162.4 101.29,158.98 97.49,158.98" fill="#2020f0" stroke="#2020f0" stroke-width="0.9" stroke-linejoin="round"/>
<polygon points="109.46,161.7 111.36,158.28 107.56,158.28" fill="#2020f0" stroke="#2020f0" stroke-width="0.9" stroke-linejoin="round"/>
<polygon points="119.53,161.01 121.43,157.59 117.63,157.59" fill="#2020f0" stroke="#2020f0" stroke-width="0.9" stroke-linejoin="round"/>
<polygon points="129.6,161.01 131.5,157.59 127.7,157.59" fill="#2020f0" stroke="#2020f0" stroke-width="0.9" stroke-linejoin="round"/>
<polygon points="139.67,160.73 141.57,157.31 137.77,157.31" fill="#2020f0" stroke="#2020f0" stroke-width="0.9" stroke-linejoin="round"/>
<polygon points="149.74,160.31 151.64,156.89 147.84,156.89" fill="#2020f0" stroke="#2020f0" stroke-width="0.9" stroke-linejoin="round"/>
<path d="M77.1,177.6H86.4" stroke="#111111" stroke-width="1.2"/>
<circle cx="81.75" cy="177.6" r="2" fill="#111111"/>
<text transform="translate(91.8,179.7) scale(1,1.13)" class="lg" style="font-size:5.65px">Measured Value of Shitou goose</text>
<path d="M77.1,187.2H86.4" stroke="#ff1a1a" stroke-width="1.2"/>
<rect x="79.8" y="185.25" width="3.9" height="3.9" fill="#ff1a1a"/>
<text transform="translate(91.8,189.3) scale(1,1.13)" class="lg" style="font-size:5.65px">Logistic of Shitou goose</text>
<path d="M77.1,196.5H86.4" stroke="#22bb22" stroke-width="1.2"/>
<polygon points="81.75,194.5 83.65,197.93 79.85,197.93" fill="#22bb22" stroke="#22bb22" stroke-width="0.9" stroke-linejoin="round"/>
<text transform="translate(91.8,198.6) scale(1,1.13)" class="lg" style="font-size:5.65px">Measured Value of Wuzong goose</text>
<path d="M77.1,206H86.4" stroke="#2020f0" stroke-width="1.2"/>
<polygon points="81.75,208 83.65,204.57 79.85,204.57" fill="#2020f0" stroke="#2020f0" stroke-width="0.9" stroke-linejoin="round"/>
<text transform="translate(91.8,208.1) scale(1,1.13)" class="lg" style="font-size:5.65px">Logistic of Wuzong goose</text>
<path d="M209.7,138.7V222" fill="none" stroke="#4a4a4a" stroke-width="1.25"/>
<path d="M209.1,222H335.41" fill="none" stroke="#333333" stroke-width="1.4"/>
<path d="M207.5,222H209.7M207.5,201.18H209.7M207.5,180.35H209.7M207.5,159.52H209.7M207.5,138.7H209.7M209.7,222V224.2M219.37,222V224.2M229.04,222V224.2M238.71,222V224.2M248.38,222V224.2M258.05,222V224.2M267.72,222V224.2M277.39,222V224.2M287.06,222V224.2M296.73,222V224.2M306.4,222V224.2M316.07,222V224.2M325.74,222V224.2M335.41,222V224.2" fill="none" stroke="#333333" stroke-width="1.1"/>
<text transform="translate(206.4,224.2) scale(1,1.12)" class="tk" text-anchor="end">0</text>
<text transform="translate(206.4,203.38) scale(1,1.12)" class="tk" text-anchor="end">5</text>
<text transform="translate(206.4,182.55) scale(1,1.12)" class="tk" text-anchor="end">10</text>
<text transform="translate(206.4,161.72) scale(1,1.12)" class="tk" text-anchor="end">15</text>
<text transform="translate(206.4,140.9) scale(1,1.12)" class="tk" text-anchor="end">20</text>
<text transform="translate(209.7,231.2) scale(1,1.12)" class="tk" text-anchor="middle">0</text>
<text transform="translate(219.37,231.2) scale(1,1.12)" class="tk" text-anchor="middle">1</text>
<text transform="translate(229.04,231.2) scale(1,1.12)" class="tk" text-anchor="middle">2</text>
<text transform="translate(238.71,231.2) scale(1,1.12)" class="tk" text-anchor="middle">3</text>
<text transform="translate(248.38,231.2) scale(1,1.12)" class="tk" text-anchor="middle">4</text>
<text transform="translate(258.05,231.2) scale(1,1.12)" class="tk" text-anchor="middle">5</text>
<text transform="translate(267.72,231.2) scale(1,1.12)" class="tk" text-anchor="middle">6</text>
<text transform="translate(277.39,231.2) scale(1,1.12)" class="tk" text-anchor="middle">7</text>
<text transform="translate(287.06,231.2) scale(1,1.12)" class="tk" text-anchor="middle">8</text>
<text transform="translate(296.73,231.2) scale(1,1.12)" class="tk" text-anchor="middle">9</text>
<text transform="translate(306.4,231.2) scale(1,1.12)" class="tk" text-anchor="middle">10</text>
<text transform="translate(316.07,231.2) scale(1,1.12)" class="tk" text-anchor="middle">11</text>
<text transform="translate(325.74,231.2) scale(1,1.12)" class="tk" text-anchor="middle">12</text>
<text transform="translate(335.41,231.2) scale(1,1.12)" class="tk" text-anchor="middle">13</text>
<text x="272.56" y="240.5" class="al" text-anchor="middle" style="font-size:7.01px">Age (Week)</text>
<text transform="translate(196.5,179.2) rotate(-90)" class="al" text-anchor="middle" style="font-size:6.95px">Keel length (cm)</text>
<text x="186.5" y="138.6" class="lt">E</text>
<polyline points="209.7,210.34 219.37,206.59 229.04,199.09 238.71,195.76 248.38,189.51 258.05,183.68 267.72,177.02 277.39,164.52 287.06,161.19 296.73,152.03 306.4,147.03 316.07,144.95 325.74,144.53" fill="none" stroke="#111111" stroke-width="1.2"/>
<circle cx="209.7" cy="210.34" r="2" fill="#111111"/>
<circle cx="219.37" cy="206.59" r="2" fill="#111111"/>
<circle cx="229.04" cy="199.09" r="2" fill="#111111"/>
<circle cx="238.71" cy="195.76" r="2" fill="#111111"/>
<circle cx="248.38" cy="189.51" r="2" fill="#111111"/>
<circle cx="258.05" cy="183.68" r="2" fill="#111111"/>
<circle cx="267.72" cy="177.02" r="2" fill="#111111"/>
<circle cx="277.39" cy="164.52" r="2" fill="#111111"/>
<circle cx="287.06" cy="161.19" r="2" fill="#111111"/>
<circle cx="296.73" cy="152.03" r="2" fill="#111111"/>
<circle cx="306.4" cy="147.03" r="2" fill="#111111"/>
<circle cx="316.07" cy="144.95" r="2" fill="#111111"/>
<circle cx="325.74" cy="144.53" r="2" fill="#111111"/>
<polyline points="209.7,209.5 219.37,205.76 229.04,200.76 238.71,195.34 248.38,188.68 258.05,182.02 267.72,174.1 277.39,167.02 287.06,160.36 296.73,154.11 306.4,149.11 316.07,144.95 325.74,142.03" fill="none" stroke="#f23a3a" stroke-width="1.2"/>
<rect x="207.75" y="207.56" width="3.9" height="3.9" fill="#f23a3a"/>
<rect x="217.42" y="203.81" width="3.9" height="3.9" fill="#f23a3a"/>
<rect x="227.09" y="198.81" width="3.9" height="3.9" fill="#f23a3a"/>
<rect x="236.76" y="193.39" width="3.9" height="3.9" fill="#f23a3a"/>
<rect x="246.43" y="186.73" width="3.9" height="3.9" fill="#f23a3a"/>
<rect x="256.1" y="180.07" width="3.9" height="3.9" fill="#f23a3a"/>
<rect x="265.77" y="172.15" width="3.9" height="3.9" fill="#f23a3a"/>
<rect x="275.44" y="165.07" width="3.9" height="3.9" fill="#f23a3a"/>
<rect x="285.11" y="158.41" width="3.9" height="3.9" fill="#f23a3a"/>
<rect x="294.78" y="152.16" width="3.9" height="3.9" fill="#f23a3a"/>
<rect x="304.45" y="147.16" width="3.9" height="3.9" fill="#f23a3a"/>
<rect x="314.12" y="143" width="3.9" height="3.9" fill="#f23a3a"/>
<rect x="323.79" y="140.08" width="3.9" height="3.9" fill="#f23a3a"/>
<polyline points="209.7,213.67 219.37,207.42 229.04,201.59 238.71,194.93 248.38,191.18 258.05,187.43 267.72,182.02 277.39,176.19 287.06,170.77 296.73,166.19 306.4,164.52 316.07,162.86 325.74,161.61" fill="none" stroke="#22bb22" stroke-width="1.2"/>
<polygon points="209.7,211.67 211.6,215.09 207.8,215.09" fill="#22bb22" stroke="#22bb22" stroke-width="0.9" stroke-linejoin="round"/>
<polygon points="219.37,205.43 221.27,208.85 217.47,208.85" fill="#22bb22" stroke="#22bb22" stroke-width="0.9" stroke-linejoin="round"/>
<polygon points="229.04,199.6 230.94,203.02 227.14,203.02" fill="#22bb22" stroke="#22bb22" stroke-width="0.9" stroke-linejoin="round"/>
<polygon points="238.71,192.93 240.61,196.35 236.81,196.35" fill="#22bb22" stroke="#22bb22" stroke-width="0.9" stroke-linejoin="round"/>
<polygon points="248.38,189.18 250.28,192.6 246.48,192.6" fill="#22bb22" stroke="#22bb22" stroke-width="0.9" stroke-linejoin="round"/>
<polygon points="258.05,185.44 259.95,188.86 256.15,188.86" fill="#22bb22" stroke="#22bb22" stroke-width="0.9" stroke-linejoin="round"/>
<polygon points="267.72,180.02 269.62,183.44 265.82,183.44" fill="#22bb22" stroke="#22bb22" stroke-width="0.9" stroke-linejoin="round"/>
<polygon points="277.39,174.19 279.29,177.61 275.49,177.61" fill="#22bb22" stroke="#22bb22" stroke-width="0.9" stroke-linejoin="round"/>
<polygon points="287.06,168.78 288.96,172.2 285.16,172.2" fill="#22bb22" stroke="#22bb22" stroke-width="0.9" stroke-linejoin="round"/>
<polygon points="296.73,164.19 298.63,167.61 294.83,167.61" fill="#22bb22" stroke="#22bb22" stroke-width="0.9" stroke-linejoin="round"/>
<polygon points="306.4,162.53 308.3,165.95 304.5,165.95" fill="#22bb22" stroke="#22bb22" stroke-width="0.9" stroke-linejoin="round"/>
<polygon points="316.07,160.86 317.97,164.28 314.17,164.28" fill="#22bb22" stroke="#22bb22" stroke-width="0.9" stroke-linejoin="round"/>
<polygon points="325.74,159.61 327.64,163.03 323.84,163.03" fill="#22bb22" stroke="#22bb22" stroke-width="0.9" stroke-linejoin="round"/>
<polyline points="209.7,212 219.37,207.01 229.04,201.59 238.71,195.76 248.38,190.35 258.05,185.35 267.72,180.35 277.39,175.77 287.06,171.6 296.73,167.85 306.4,164.94 316.07,162.02 325.74,159.52" fill="none" stroke="#2020f0" stroke-width="1.2"/>
<polygon points="209.7,214 211.6,210.58 207.8,210.58" fill="#2020f0" stroke="#2020f0" stroke-width="0.9" stroke-linejoin="round"/>
<polygon points="219.37,209 221.27,205.58 217.47,205.58" fill="#2020f0" stroke="#2020f0" stroke-width="0.9" stroke-linejoin="round"/>
<polygon points="229.04,203.59 230.94,200.17 227.14,200.17" fill="#2020f0" stroke="#2020f0" stroke-width="0.9" stroke-linejoin="round"/>
<polygon points="238.71,197.76 240.61,194.34 236.81,194.34" fill="#2020f0" stroke="#2020f0" stroke-width="0.9" stroke-linejoin="round"/>
<polygon points="248.38,192.34 250.28,188.92 246.48,188.92" fill="#2020f0" stroke="#2020f0" stroke-width="0.9" stroke-linejoin="round"/>
<polygon points="258.05,187.34 259.95,183.92 256.15,183.92" fill="#2020f0" stroke="#2020f0" stroke-width="0.9" stroke-linejoin="round"/>
<polygon points="267.72,182.34 269.62,178.92 265.82,178.92" fill="#2020f0" stroke="#2020f0" stroke-width="0.9" stroke-linejoin="round"/>
<polygon points="277.39,177.76 279.29,174.34 275.49,174.34" fill="#2020f0" stroke="#2020f0" stroke-width="0.9" stroke-linejoin="round"/>
<polygon points="287.06,173.6 288.96,170.18 285.16,170.18" fill="#2020f0" stroke="#2020f0" stroke-width="0.9" stroke-linejoin="round"/>
<polygon points="296.73,169.85 298.63,166.43 294.83,166.43" fill="#2020f0" stroke="#2020f0" stroke-width="0.9" stroke-linejoin="round"/>
<polygon points="306.4,166.93 308.3,163.51 304.5,163.51" fill="#2020f0" stroke="#2020f0" stroke-width="0.9" stroke-linejoin="round"/>
<polygon points="316.07,164.02 317.97,160.6 314.17,160.6" fill="#2020f0" stroke="#2020f0" stroke-width="0.9" stroke-linejoin="round"/>
<polygon points="325.74,161.52 327.64,158.1 323.84,158.1" fill="#2020f0" stroke="#2020f0" stroke-width="0.9" stroke-linejoin="round"/>
<path d="M262.5,190.4H271.8" stroke="#111111" stroke-width="1.2"/>
<circle cx="267.15" cy="190.4" r="2" fill="#111111"/>
<text transform="translate(276.4,192.5) scale(1,1.13)" class="lg" style="font-size:5.44px">Measured Value of Shitou goose</text>
<path d="M262.5,198.5H271.8" stroke="#f23a3a" stroke-width="1.2"/>
<rect x="265.2" y="196.55" width="3.9" height="3.9" fill="#f23a3a"/>
<text transform="translate(276.4,200.6) scale(1,1.13)" class="lg" style="font-size:5.44px">Logistic of Shitou goose</text>
<path d="M262.5,206.7H271.8" stroke="#22bb22" stroke-width="1.2"/>
<polygon points="267.15,204.7 269.05,208.12 265.25,208.12" fill="#22bb22" stroke="#22bb22" stroke-width="0.9" stroke-linejoin="round"/>
<text transform="translate(276.4,208.8) scale(1,1.13)" class="lg" style="font-size:5.44px">Measured Value of Wuzong goose</text>
<path d="M262.5,214.9H271.8" stroke="#2020f0" stroke-width="1.2"/>
<polygon points="267.15,216.9 269.05,213.47 265.25,213.47" fill="#2020f0" stroke="#2020f0" stroke-width="0.9" stroke-linejoin="round"/>
<text transform="translate(276.4,217) scale(1,1.13)" class="lg" style="font-size:5.44px">Bertalanffy of Wuzong goose</text>
<path d="M387.8,135.67V223.1" fill="none" stroke="#4a4a4a" stroke-width="1.25"/>
<path d="M387.2,223.1H519.1" fill="none" stroke="#333333" stroke-width="1.4"/>
<path d="M385.6,223.1H387.8M385.6,211.44H387.8M385.6,199.79H387.8M385.6,188.13H387.8M385.6,176.47H387.8M385.6,164.81H387.8M385.6,153.16H387.8M385.6,141.5H387.8M387.8,223.1V225.3M397.9,223.1V225.3M408,223.1V225.3M418.1,223.1V225.3M428.2,223.1V225.3M438.3,223.1V225.3M448.4,223.1V225.3M458.5,223.1V225.3M468.6,223.1V225.3M478.7,223.1V225.3M488.8,223.1V225.3M498.9,223.1V225.3M509,223.1V225.3M519.1,223.1V225.3" fill="none" stroke="#333333" stroke-width="1.1"/>
<text transform="translate(384.5,225.3) scale(1,1.12)" class="tk" text-anchor="end">0</text>
<text transform="translate(384.5,213.64) scale(1,1.12)" class="tk" text-anchor="end">2</text>
<text transform="translate(384.5,201.99) scale(1,1.12)" class="tk" text-anchor="end">4</text>
<text transform="translate(384.5,190.33) scale(1,1.12)" class="tk" text-anchor="end">6</text>
<text transform="translate(384.5,178.67) scale(1,1.12)" class="tk" text-anchor="end">8</text>
<text transform="translate(384.5,167.01) scale(1,1.12)" class="tk" text-anchor="end">10</text>
<text transform="translate(384.5,155.36) scale(1,1.12)" class="tk" text-anchor="end">12</text>
<text transform="translate(384.5,143.7) scale(1,1.12)" class="tk" text-anchor="end">14</text>
<text transform="translate(387.8,232.3) scale(1,1.12)" class="tk" text-anchor="middle">0</text>
<text transform="translate(397.9,232.3) scale(1,1.12)" class="tk" text-anchor="middle">1</text>
<text transform="translate(408,232.3) scale(1,1.12)" class="tk" text-anchor="middle">2</text>
<text transform="translate(418.1,232.3) scale(1,1.12)" class="tk" text-anchor="middle">3</text>
<text transform="translate(428.2,232.3) scale(1,1.12)" class="tk" text-anchor="middle">4</text>
<text transform="translate(438.3,232.3) scale(1,1.12)" class="tk" text-anchor="middle">5</text>
<text transform="translate(448.4,232.3) scale(1,1.12)" class="tk" text-anchor="middle">6</text>
<text transform="translate(458.5,232.3) scale(1,1.12)" class="tk" text-anchor="middle">7</text>
<text transform="translate(468.6,232.3) scale(1,1.12)" class="tk" text-anchor="middle">8</text>
<text transform="translate(478.7,232.3) scale(1,1.12)" class="tk" text-anchor="middle">9</text>
<text transform="translate(488.8,232.3) scale(1,1.12)" class="tk" text-anchor="middle">10</text>
<text transform="translate(498.9,232.3) scale(1,1.12)" class="tk" text-anchor="middle">11</text>
<text transform="translate(509,232.3) scale(1,1.12)" class="tk" text-anchor="middle">12</text>
<text transform="translate(519.1,232.3) scale(1,1.12)" class="tk" text-anchor="middle">13</text>
<text x="453.45" y="241.6" class="al" text-anchor="middle" style="font-size:7.32px">Age (Week)</text>
<text transform="translate(373.3,178.3) rotate(-90)" class="al" text-anchor="middle" style="font-size:7.25px">Chest deep (cm)</text>
<text x="366.5" y="140.2" class="lt">F</text>
<polyline points="387.8,203.28 397.9,201.53 408,195.71 418.1,188.13 428.2,178.8 438.3,178.8 448.4,169.48 458.5,158.4 468.6,155.49 478.7,151.41 488.8,151.41 498.9,150.83 509,149.08" fill="none" stroke="#111111" stroke-width="1.2"/>
<circle cx="387.8" cy="203.28" r="2" fill="#111111"/>
<circle cx="397.9" cy="201.53" r="2" fill="#111111"/>
<circle cx="408" cy="195.71" r="2" fill="#111111"/>
<circle cx="418.1" cy="188.13" r="2" fill="#111111"/>
<circle cx="428.2" cy="178.8" r="2" fill="#111111"/>
<circle cx="438.3" cy="178.8" r="2" fill="#111111"/>
<circle cx="448.4" cy="169.48" r="2" fill="#111111"/>
<circle cx="458.5" cy="158.4" r="2" fill="#111111"/>
<circle cx="468.6" cy="155.49" r="2" fill="#111111"/>
<circle cx="478.7" cy="151.41" r="2" fill="#111111"/>
<circle cx="488.8" cy="151.41" r="2" fill="#111111"/>
<circle cx="498.9" cy="150.83" r="2" fill="#111111"/>
<circle cx="509" cy="149.08" r="2" fill="#111111"/>
<polyline points="387.8,205.61 397.9,200.95 408,195.12 418.1,187.55 428.2,180.55 438.3,174.14 448.4,167.73 458.5,161.9 468.6,157.24 478.7,153.74 488.8,151.41 498.9,149.66 509,148.49" fill="none" stroke="#ff1a1a" stroke-width="1.2"/>
<rect x="385.85" y="203.66" width="3.9" height="3.9" fill="#ff1a1a"/>
<rect x="395.95" y="199" width="3.9" height="3.9" fill="#ff1a1a"/>
<rect x="406.05" y="193.17" width="3.9" height="3.9" fill="#ff1a1a"/>
<rect x="416.15" y="185.6" width="3.9" height="3.9" fill="#ff1a1a"/>
<rect x="426.25" y="178.6" width="3.9" height="3.9" fill="#ff1a1a"/>
<rect x="436.35" y="172.19" width="3.9" height="3.9" fill="#ff1a1a"/>
<rect x="446.45" y="165.78" width="3.9" height="3.9" fill="#ff1a1a"/>
<rect x="456.55" y="159.95" width="3.9" height="3.9" fill="#ff1a1a"/>
<rect x="466.65" y="155.29" width="3.9" height="3.9" fill="#ff1a1a"/>
<rect x="476.75" y="151.79" width="3.9" height="3.9" fill="#ff1a1a"/>
<rect x="486.85" y="149.46" width="3.9" height="3.9" fill="#ff1a1a"/>
<rect x="496.95" y="147.71" width="3.9" height="3.9" fill="#ff1a1a"/>
<rect x="507.05" y="146.54" width="3.9" height="3.9" fill="#ff1a1a"/>
<polyline points="387.8,207.36 397.9,203.28 408,198.04 418.1,192.21 428.2,185.21 438.3,179.39 448.4,177.05 458.5,171.23 468.6,167.73 478.7,166.56 488.8,165.4 498.9,162.48 509,161.9" fill="none" stroke="#22bb22" stroke-width="1.2"/>
<polygon points="387.8,205.37 389.7,208.79 385.9,208.79" fill="#22bb22" stroke="#22bb22" stroke-width="0.9" stroke-linejoin="round"/>
<polygon points="397.9,201.29 399.8,204.71 396,204.71" fill="#22bb22" stroke="#22bb22" stroke-width="0.9" stroke-linejoin="round"/>
<polygon points="408,196.04 409.9,199.46 406.1,199.46" fill="#22bb22" stroke="#22bb22" stroke-width="0.9" stroke-linejoin="round"/>
<polygon points="418.1,190.21 420,193.63 416.2,193.63" fill="#22bb22" stroke="#22bb22" stroke-width="0.9" stroke-linejoin="round"/>
<polygon points="428.2,183.22 430.1,186.64 426.3,186.64" fill="#22bb22" stroke="#22bb22" stroke-width="0.9" stroke-linejoin="round"/>
<polygon points="438.3,177.39 440.2,180.81 436.4,180.81" fill="#22bb22" stroke="#22bb22" stroke-width="0.9" stroke-linejoin="round"/>
<polygon points="448.4,175.06 450.3,178.48 446.5,178.48" fill="#22bb22" stroke="#22bb22" stroke-width="0.9" stroke-linejoin="round"/>
<polygon points="458.5,169.23 460.4,172.65 456.6,172.65" fill="#22bb22" stroke="#22bb22" stroke-width="0.9" stroke-linejoin="round"/>
<polygon points="468.6,165.73 470.5,169.15 466.7,169.15" fill="#22bb22" stroke="#22bb22" stroke-width="0.9" stroke-linejoin="round"/>
<polygon points="478.7,164.57 480.6,167.99 476.8,167.99" fill="#22bb22" stroke="#22bb22" stroke-width="0.9" stroke-linejoin="round"/>
<polygon points="488.8,163.4 490.7,166.82 486.9,166.82" fill="#22bb22" stroke="#22bb22" stroke-width="0.9" stroke-linejoin="round"/>
<polygon points="498.9,160.49 500.8,163.91 497,163.91" fill="#22bb22" stroke="#22bb22" stroke-width="0.9" stroke-linejoin="round"/>
<polygon points="509,159.91 510.9,163.33 507.1,163.33" fill="#22bb22" stroke="#22bb22" stroke-width="0.9" stroke-linejoin="round"/>
<polyline points="387.8,206.78 397.9,202.7 408,196.87 418.1,191.04 428.2,185.21 438.3,179.97 448.4,175.31 458.5,171.23 468.6,168.31 478.7,165.98 488.8,164.23 498.9,162.48 509,161.32" fill="none" stroke="#2020f0" stroke-width="1.2"/>
<polygon points="387.8,208.78 389.7,205.35 385.9,205.35" fill="#2020f0" stroke="#2020f0" stroke-width="0.9" stroke-linejoin="round"/>
<polygon points="397.9,204.69 399.8,201.27 396,201.27" fill="#2020f0" stroke="#2020f0" stroke-width="0.9" stroke-linejoin="round"/>
<polygon points="408,198.87 409.9,195.45 406.1,195.45" fill="#2020f0" stroke="#2020f0" stroke-width="0.9" stroke-linejoin="round"/>
<polygon points="418.1,193.04 420,189.62 416.2,189.62" fill="#2020f0" stroke="#2020f0" stroke-width="0.9" stroke-linejoin="round"/>
<polygon points="428.2,187.21 430.1,183.79 426.3,183.79" fill="#2020f0" stroke="#2020f0" stroke-width="0.9" stroke-linejoin="round"/>
<polygon points="438.3,181.96 440.2,178.54 436.4,178.54" fill="#2020f0" stroke="#2020f0" stroke-width="0.9" stroke-linejoin="round"/>
<polygon points="448.4,177.3 450.3,173.88 446.5,173.88" fill="#2020f0" stroke="#2020f0" stroke-width="0.9" stroke-linejoin="round"/>
<polygon points="458.5,173.22 460.4,169.8 456.6,169.8" fill="#2020f0" stroke="#2020f0" stroke-width="0.9" stroke-linejoin="round"/>
<polygon points="468.6,170.31 470.5,166.89 466.7,166.89" fill="#2020f0" stroke="#2020f0" stroke-width="0.9" stroke-linejoin="round"/>
<polygon points="478.7,167.97 480.6,164.55 476.8,164.55" fill="#2020f0" stroke="#2020f0" stroke-width="0.9" stroke-linejoin="round"/>
<polygon points="488.8,166.23 490.7,162.81 486.9,162.81" fill="#2020f0" stroke="#2020f0" stroke-width="0.9" stroke-linejoin="round"/>
<polygon points="498.9,164.48 500.8,161.06 497,161.06" fill="#2020f0" stroke="#2020f0" stroke-width="0.9" stroke-linejoin="round"/>
<polygon points="509,163.31 510.9,159.89 507.1,159.89" fill="#2020f0" stroke="#2020f0" stroke-width="0.9" stroke-linejoin="round"/>
<path d="M441.5,187.9H450.7" stroke="#111111" stroke-width="1.2"/>
<circle cx="446.1" cy="187.9" r="2" fill="#111111"/>
<text transform="translate(456.2,190) scale(1,1.13)" class="lg" style="font-size:5.69px">Measured Value of Shitou goose</text>
<path d="M441.5,196.6H450.7" stroke="#ff1a1a" stroke-width="1.2"/>
<rect x="444.15" y="194.65" width="3.9" height="3.9" fill="#ff1a1a"/>
<text transform="translate(456.2,198.7) scale(1,1.13)" class="lg" style="font-size:5.69px">Logistic of Shitou goose</text>
<path d="M441.5,205H450.7" stroke="#22bb22" stroke-width="1.2"/>
<polygon points="446.1,203 448,206.43 444.2,206.43" fill="#22bb22" stroke="#22bb22" stroke-width="0.9" stroke-linejoin="round"/>
<text transform="translate(456.2,207.1) scale(1,1.13)" class="lg" style="font-size:5.69px">Measured Value of Wuzong goose</text>
<path d="M441.5,213.4H450.7" stroke="#2020f0" stroke-width="1.2"/>
<polygon points="446.1,215.4 448,211.97 444.2,211.97" fill="#2020f0" stroke="#2020f0" stroke-width="0.9" stroke-linejoin="round"/>
<text transform="translate(456.2,215.5) scale(1,1.13)" class="lg" style="font-size:5.69px">Logistic of Wuzong goose</text>
<path d="M28.3,262.9V345.2" fill="none" stroke="#4a4a4a" stroke-width="1.25"/>
<path d="M27.7,345.2H152.58" fill="none" stroke="#333333" stroke-width="1.4"/>
<path d="M26.1,345.2H28.3M26.1,331.48H28.3M26.1,317.77H28.3M26.1,304.05H28.3M26.1,290.33H28.3M26.1,276.62H28.3M26.1,262.9H28.3M28.3,345.2V347.4M37.86,345.2V347.4M47.42,345.2V347.4M56.98,345.2V347.4M66.54,345.2V347.4M76.1,345.2V347.4M85.66,345.2V347.4M95.22,345.2V347.4M104.78,345.2V347.4M114.34,345.2V347.4M123.9,345.2V347.4M133.46,345.2V347.4M143.02,345.2V347.4M152.58,345.2V347.4" fill="none" stroke="#333333" stroke-width="1.1"/>
<text transform="translate(25,347.4) scale(1,1.12)" class="tk" text-anchor="end">0</text>
<text transform="translate(25,333.68) scale(1,1.12)" class="tk" text-anchor="end">3</text>
<text transform="translate(25,319.97) scale(1,1.12)" class="tk" text-anchor="end">6</text>
<text transform="translate(25,306.25) scale(1,1.12)" class="tk" text-anchor="end">9</text>
<text transform="translate(25,292.53) scale(1,1.12)" class="tk" text-anchor="end">12</text>
<text transform="translate(25,278.82) scale(1,1.12)" class="tk" text-anchor="end">15</text>
<text transform="translate(25,265.1) scale(1,1.12)" class="tk" text-anchor="end">18</text>
<text transform="translate(28.3,354.4) scale(1,1.12)" class="tk" text-anchor="middle">0</text>
<text transform="translate(37.86,354.4) scale(1,1.12)" class="tk" text-anchor="middle">1</text>
<text transform="translate(47.42,354.4) scale(1,1.12)" class="tk" text-anchor="middle">2</text>
<text transform="translate(56.98,354.4) scale(1,1.12)" class="tk" text-anchor="middle">3</text>
<text transform="translate(66.54,354.4) scale(1,1.12)" class="tk" text-anchor="middle">4</text>
<text transform="translate(76.1,354.4) scale(1,1.12)" class="tk" text-anchor="middle">5</text>
<text transform="translate(85.66,354.4) scale(1,1.12)" class="tk" text-anchor="middle">6</text>
<text transform="translate(95.22,354.4) scale(1,1.12)" class="tk" text-anchor="middle">7</text>
<text transform="translate(104.78,354.4) scale(1,1.12)" class="tk" text-anchor="middle">8</text>
<text transform="translate(114.34,354.4) scale(1,1.12)" class="tk" text-anchor="middle">9</text>
<text transform="translate(123.9,354.4) scale(1,1.12)" class="tk" text-anchor="middle">10</text>
<text transform="translate(133.46,354.4) scale(1,1.12)" class="tk" text-anchor="middle">11</text>
<text transform="translate(143.02,354.4) scale(1,1.12)" class="tk" text-anchor="middle">12</text>
<text transform="translate(152.58,354.4) scale(1,1.12)" class="tk" text-anchor="middle">13</text>
<text x="90.44" y="363.7" class="al" text-anchor="middle" style="font-size:6.93px">Age (Week)</text>
<text transform="translate(14.5,302.7) rotate(-90)" class="al" text-anchor="middle" style="font-size:6.8px">Chest width (cm)</text>
<text x="3.3" y="264.8" class="lt">G</text>
<polyline points="28.3,331.48 37.86,330.11 47.42,325.08 56.98,319.14 66.54,313.19 76.1,307.25 85.66,300.39 95.22,293.99 104.78,287.13 114.34,282.56 123.9,279.13 133.46,277.99 143.02,277.99" fill="none" stroke="#111111" stroke-width="1.2"/>
<circle cx="28.3" cy="331.48" r="2" fill="#111111"/>
<circle cx="37.86" cy="330.11" r="2" fill="#111111"/>
<circle cx="47.42" cy="325.08" r="2" fill="#111111"/>
<circle cx="56.98" cy="319.14" r="2" fill="#111111"/>
<circle cx="66.54" cy="313.19" r="2" fill="#111111"/>
<circle cx="76.1" cy="307.25" r="2" fill="#111111"/>
<circle cx="85.66" cy="300.39" r="2" fill="#111111"/>
<circle cx="95.22" cy="293.99" r="2" fill="#111111"/>
<circle cx="104.78" cy="287.13" r="2" fill="#111111"/>
<circle cx="114.34" cy="282.56" r="2" fill="#111111"/>
<circle cx="123.9" cy="279.13" r="2" fill="#111111"/>
<circle cx="133.46" cy="277.99" r="2" fill="#111111"/>
<circle cx="143.02" cy="277.99" r="2" fill="#111111"/>
<polyline points="28.3,332.85 37.86,330.11 47.42,325.08 56.98,319.6 66.54,313.19 76.1,306.79 85.66,300.85 95.22,293.99 104.78,288.96 114.34,284.39 123.9,280.27 133.46,277.99 143.02,275.25" fill="none" stroke="#ff1a1a" stroke-width="1.2"/>
<rect x="26.35" y="330.9" width="3.9" height="3.9" fill="#ff1a1a"/>
<rect x="35.91" y="328.16" width="3.9" height="3.9" fill="#ff1a1a"/>
<rect x="45.47" y="323.13" width="3.9" height="3.9" fill="#ff1a1a"/>
<rect x="55.03" y="317.65" width="3.9" height="3.9" fill="#ff1a1a"/>
<rect x="64.59" y="311.24" width="3.9" height="3.9" fill="#ff1a1a"/>
<rect x="74.15" y="304.84" width="3.9" height="3.9" fill="#ff1a1a"/>
<rect x="83.71" y="298.9" width="3.9" height="3.9" fill="#ff1a1a"/>
<rect x="93.27" y="292.04" width="3.9" height="3.9" fill="#ff1a1a"/>
<rect x="102.83" y="287.01" width="3.9" height="3.9" fill="#ff1a1a"/>
<rect x="112.39" y="282.44" width="3.9" height="3.9" fill="#ff1a1a"/>
<rect x="121.95" y="278.32" width="3.9" height="3.9" fill="#ff1a1a"/>
<rect x="131.51" y="276.04" width="3.9" height="3.9" fill="#ff1a1a"/>
<rect x="141.07" y="273.3" width="3.9" height="3.9" fill="#ff1a1a"/>
<polyline points="28.3,333.77 37.86,330.57 47.42,326 56.98,321.42 66.54,317.31 76.1,311.37 85.66,306.11 95.22,301.76 104.78,298.11 114.34,296.28 123.9,294.91 133.46,293.99 143.02,293.53" fill="none" stroke="#22bb22" stroke-width="1.2"/>
<polygon points="28.3,331.77 30.2,335.19 26.4,335.19" fill="#22bb22" stroke="#22bb22" stroke-width="0.9" stroke-linejoin="round"/>
<polygon points="37.86,328.57 39.76,331.99 35.96,331.99" fill="#22bb22" stroke="#22bb22" stroke-width="0.9" stroke-linejoin="round"/>
<polygon points="47.42,324 49.32,327.42 45.52,327.42" fill="#22bb22" stroke="#22bb22" stroke-width="0.9" stroke-linejoin="round"/>
<polygon points="56.98,319.43 58.88,322.85 55.08,322.85" fill="#22bb22" stroke="#22bb22" stroke-width="0.9" stroke-linejoin="round"/>
<polygon points="66.54,315.31 68.44,318.73 64.64,318.73" fill="#22bb22" stroke="#22bb22" stroke-width="0.9" stroke-linejoin="round"/>
<polygon points="76.1,309.37 78,312.79 74.2,312.79" fill="#22bb22" stroke="#22bb22" stroke-width="0.9" stroke-linejoin="round"/>
<polygon points="85.66,304.11 87.56,307.53 83.76,307.53" fill="#22bb22" stroke="#22bb22" stroke-width="0.9" stroke-linejoin="round"/>
<polygon points="95.22,299.77 97.12,303.19 93.32,303.19" fill="#22bb22" stroke="#22bb22" stroke-width="0.9" stroke-linejoin="round"/>
<polygon points="104.78,296.11 106.68,299.53 102.88,299.53" fill="#22bb22" stroke="#22bb22" stroke-width="0.9" stroke-linejoin="round"/>
<polygon points="114.34,294.28 116.24,297.7 112.44,297.7" fill="#22bb22" stroke="#22bb22" stroke-width="0.9" stroke-linejoin="round"/>
<polygon points="123.9,292.91 125.8,296.33 122,296.33" fill="#22bb22" stroke="#22bb22" stroke-width="0.9" stroke-linejoin="round"/>
<polygon points="133.46,292 135.36,295.42 131.56,295.42" fill="#22bb22" stroke="#22bb22" stroke-width="0.9" stroke-linejoin="round"/>
<polygon points="143.02,291.54 144.92,294.96 141.12,294.96" fill="#22bb22" stroke="#22bb22" stroke-width="0.9" stroke-linejoin="round"/>
<polyline points="28.3,334.68 37.86,330.57 47.42,326 56.98,320.97 66.54,315.48 76.1,309.99 85.66,305.15 95.22,301.03 104.78,298.11 114.34,296.28 123.9,294.45 133.46,293.08 143.02,292.16" fill="none" stroke="#2020f0" stroke-width="1.2"/>
<polygon points="28.3,336.68 30.2,333.26 26.4,333.26" fill="#2020f0" stroke="#2020f0" stroke-width="0.9" stroke-linejoin="round"/>
<polygon points="37.86,332.56 39.76,329.14 35.96,329.14" fill="#2020f0" stroke="#2020f0" stroke-width="0.9" stroke-linejoin="round"/>
<polygon points="47.42,327.99 49.32,324.57 45.52,324.57" fill="#2020f0" stroke="#2020f0" stroke-width="0.9" stroke-linejoin="round"/>
<polygon points="56.98,322.96 58.88,319.54 55.08,319.54" fill="#2020f0" stroke="#2020f0" stroke-width="0.9" stroke-linejoin="round"/>
<polygon points="66.54,317.48 68.44,314.06 64.64,314.06" fill="#2020f0" stroke="#2020f0" stroke-width="0.9" stroke-linejoin="round"/>
<polygon points="76.1,311.99 78,308.57 74.2,308.57" fill="#2020f0" stroke="#2020f0" stroke-width="0.9" stroke-linejoin="round"/>
<polygon points="85.66,307.14 87.56,303.72 83.76,303.72" fill="#2020f0" stroke="#2020f0" stroke-width="0.9" stroke-linejoin="round"/>
<polygon points="95.22,303.03 97.12,299.61 93.32,299.61" fill="#2020f0" stroke="#2020f0" stroke-width="0.9" stroke-linejoin="round"/>
<polygon points="104.78,300.1 106.68,296.68 102.88,296.68" fill="#2020f0" stroke="#2020f0" stroke-width="0.9" stroke-linejoin="round"/>
<polygon points="114.34,298.27 116.24,294.85 112.44,294.85" fill="#2020f0" stroke="#2020f0" stroke-width="0.9" stroke-linejoin="round"/>
<polygon points="123.9,296.44 125.8,293.02 122,293.02" fill="#2020f0" stroke="#2020f0" stroke-width="0.9" stroke-linejoin="round"/>
<polygon points="133.46,295.07 135.36,291.65 131.56,291.65" fill="#2020f0" stroke="#2020f0" stroke-width="0.9" stroke-linejoin="round"/>
<polygon points="143.02,294.16 144.92,290.74 141.12,290.74" fill="#2020f0" stroke="#2020f0" stroke-width="0.9" stroke-linejoin="round"/>
<path d="M82.8,313.2H91.8" stroke="#111111" stroke-width="1.2"/>
<circle cx="87.3" cy="313.2" r="2" fill="#111111"/>
<text transform="translate(96.3,315.3) scale(1,1.13)" class="lg" style="font-size:5.34px">Measured Value of Shitou goose</text>
<path d="M82.8,321.8H91.8" stroke="#ff1a1a" stroke-width="1.2"/>
<rect x="85.35" y="319.85" width="3.9" height="3.9" fill="#ff1a1a"/>
<text transform="translate(96.3,323.9) scale(1,1.13)" class="lg" style="font-size:5.34px">Logistic of Shitou goose</text>
<path d="M82.8,329.7H91.8" stroke="#22bb22" stroke-width="1.2"/>
<polygon points="87.3,327.7 89.2,331.12 85.4,331.12" fill="#22bb22" stroke="#22bb22" stroke-width="0.9" stroke-linejoin="round"/>
<text transform="translate(96.3,331.8) scale(1,1.13)" class="lg" style="font-size:5.34px">Measured Value of Wuzong goose</text>
<path d="M82.8,337.9H91.8" stroke="#2020f0" stroke-width="1.2"/>
<polygon points="87.3,339.89 89.2,336.47 85.4,336.47" fill="#2020f0" stroke="#2020f0" stroke-width="0.9" stroke-linejoin="round"/>
<text transform="translate(96.3,340) scale(1,1.13)" class="lg" style="font-size:5.34px">Logistic of Wuzong goose</text>
<path d="M209.6,259.7V345.5" fill="none" stroke="#4a4a4a" stroke-width="1.25"/>
<path d="M209,345.5H338.56" fill="none" stroke="#333333" stroke-width="1.4"/>
<path d="M207.4,345.5H209.6M207.4,324.05H209.6M207.4,302.6H209.6M207.4,281.15H209.6M207.4,259.7H209.6M209.6,345.5V347.7M219.52,345.5V347.7M229.44,345.5V347.7M239.36,345.5V347.7M249.28,345.5V347.7M259.2,345.5V347.7M269.12,345.5V347.7M279.04,345.5V347.7M288.96,345.5V347.7M298.88,345.5V347.7M308.8,345.5V347.7M318.72,345.5V347.7M328.64,345.5V347.7M338.56,345.5V347.7" fill="none" stroke="#333333" stroke-width="1.1"/>
<text transform="translate(206.3,347.7) scale(1,1.12)" class="tk" text-anchor="end">0</text>
<text transform="translate(206.3,326.25) scale(1,1.12)" class="tk" text-anchor="end">3</text>
<text transform="translate(206.3,304.8) scale(1,1.12)" class="tk" text-anchor="end">6</text>
<text transform="translate(206.3,283.35) scale(1,1.12)" class="tk" text-anchor="end">9</text>
<text transform="translate(206.3,261.9) scale(1,1.12)" class="tk" text-anchor="end">12</text>
<text transform="translate(209.6,354.7) scale(1,1.12)" class="tk" text-anchor="middle">0</text>
<text transform="translate(219.52,354.7) scale(1,1.12)" class="tk" text-anchor="middle">1</text>
<text transform="translate(229.44,354.7) scale(1,1.12)" class="tk" text-anchor="middle">2</text>
<text transform="translate(239.36,354.7) scale(1,1.12)" class="tk" text-anchor="middle">3</text>
<text transform="translate(249.28,354.7) scale(1,1.12)" class="tk" text-anchor="middle">4</text>
<text transform="translate(259.2,354.7) scale(1,1.12)" class="tk" text-anchor="middle">5</text>
<text transform="translate(269.12,354.7) scale(1,1.12)" class="tk" text-anchor="middle">6</text>
<text transform="translate(279.04,354.7) scale(1,1.12)" class="tk" text-anchor="middle">7</text>
<text transform="translate(288.96,354.7) scale(1,1.12)" class="tk" text-anchor="middle">8</text>
<text transform="translate(298.88,354.7) scale(1,1.12)" class="tk" text-anchor="middle">9</text>
<text transform="translate(308.8,354.7) scale(1,1.12)" class="tk" text-anchor="middle">10</text>
<text transform="translate(318.72,354.7) scale(1,1.12)" class="tk" text-anchor="middle">11</text>
<text transform="translate(328.64,354.7) scale(1,1.12)" class="tk" text-anchor="middle">12</text>
<text transform="translate(338.56,354.7) scale(1,1.12)" class="tk" text-anchor="middle">13</text>
<text x="274.08" y="364" class="al" text-anchor="middle" style="font-size:7.19px">Age (Week)</text>
<text transform="translate(196,301.1) rotate(-90)" class="al" text-anchor="middle" style="font-size:7.25px">Pelvis width (cm)</text>
<text x="184.1" y="263.2" class="lt">H</text>
<polyline points="209.6,322.62 219.52,321.9 229.44,311.89 239.36,309.75 249.28,299.74 259.2,291.88 269.12,282.58 279.04,272.57 288.96,271.85 298.88,271.14 308.8,270.42 318.72,269.71 328.64,268.28" fill="none" stroke="#111111" stroke-width="1.2"/>
<circle cx="209.6" cy="322.62" r="2" fill="#111111"/>
<circle cx="219.52" cy="321.9" r="2" fill="#111111"/>
<circle cx="229.44" cy="311.89" r="2" fill="#111111"/>
<circle cx="239.36" cy="309.75" r="2" fill="#111111"/>
<circle cx="249.28" cy="299.74" r="2" fill="#111111"/>
<circle cx="259.2" cy="291.88" r="2" fill="#111111"/>
<circle cx="269.12" cy="282.58" r="2" fill="#111111"/>
<circle cx="279.04" cy="272.57" r="2" fill="#111111"/>
<circle cx="288.96" cy="271.85" r="2" fill="#111111"/>
<circle cx="298.88" cy="271.14" r="2" fill="#111111"/>
<circle cx="308.8" cy="270.42" r="2" fill="#111111"/>
<circle cx="318.72" cy="269.71" r="2" fill="#111111"/>
<circle cx="328.64" cy="268.28" r="2" fill="#111111"/>
<polyline points="209.6,326.91 219.52,321.9 229.44,314.04 239.36,306.18 249.28,298.31 259.2,290.44 269.12,284.01 279.04,278.29 288.96,274.71 298.88,271.28 308.8,269.71 318.72,268.28 328.64,266.85" fill="none" stroke="#ff1a1a" stroke-width="1.2"/>
<rect x="207.65" y="324.96" width="3.9" height="3.9" fill="#ff1a1a"/>
<rect x="217.57" y="319.95" width="3.9" height="3.9" fill="#ff1a1a"/>
<rect x="227.49" y="312.09" width="3.9" height="3.9" fill="#ff1a1a"/>
<rect x="237.41" y="304.23" width="3.9" height="3.9" fill="#ff1a1a"/>
<rect x="247.33" y="296.36" width="3.9" height="3.9" fill="#ff1a1a"/>
<rect x="257.25" y="288.5" width="3.9" height="3.9" fill="#ff1a1a"/>
<rect x="267.17" y="282.06" width="3.9" height="3.9" fill="#ff1a1a"/>
<rect x="277.09" y="276.34" width="3.9" height="3.9" fill="#ff1a1a"/>
<rect x="287.01" y="272.76" width="3.9" height="3.9" fill="#ff1a1a"/>
<rect x="296.93" y="269.33" width="3.9" height="3.9" fill="#ff1a1a"/>
<rect x="306.85" y="267.76" width="3.9" height="3.9" fill="#ff1a1a"/>
<rect x="316.77" y="266.33" width="3.9" height="3.9" fill="#ff1a1a"/>
<rect x="326.69" y="264.9" width="3.9" height="3.9" fill="#ff1a1a"/>
<polyline points="209.6,326.91 219.52,321.9 229.44,315.47 239.36,312.61 249.28,305.46 259.2,295.45 269.12,292.59 279.04,290.44 288.96,288.3 298.88,286.87 308.8,286.87 318.72,286.15 328.64,285.44" fill="none" stroke="#22bb22" stroke-width="1.2"/>
<polygon points="209.6,324.91 211.5,328.33 207.7,328.33" fill="#22bb22" stroke="#22bb22" stroke-width="0.9" stroke-linejoin="round"/>
<polygon points="219.52,319.91 221.42,323.33 217.62,323.33" fill="#22bb22" stroke="#22bb22" stroke-width="0.9" stroke-linejoin="round"/>
<polygon points="229.44,313.47 231.34,316.89 227.54,316.89" fill="#22bb22" stroke="#22bb22" stroke-width="0.9" stroke-linejoin="round"/>
<polygon points="239.36,310.62 241.26,314.04 237.46,314.04" fill="#22bb22" stroke="#22bb22" stroke-width="0.9" stroke-linejoin="round"/>
<polygon points="249.28,303.46 251.18,306.88 247.38,306.88" fill="#22bb22" stroke="#22bb22" stroke-width="0.9" stroke-linejoin="round"/>
<polygon points="259.2,293.45 261.1,296.88 257.3,296.88" fill="#22bb22" stroke="#22bb22" stroke-width="0.9" stroke-linejoin="round"/>
<polygon points="269.12,290.59 271.02,294.01 267.22,294.01" fill="#22bb22" stroke="#22bb22" stroke-width="0.9" stroke-linejoin="round"/>
<polygon points="279.04,288.45 280.94,291.87 277.14,291.87" fill="#22bb22" stroke="#22bb22" stroke-width="0.9" stroke-linejoin="round"/>
<polygon points="288.96,286.31 290.86,289.73 287.06,289.73" fill="#22bb22" stroke="#22bb22" stroke-width="0.9" stroke-linejoin="round"/>
<polygon points="298.88,284.88 300.78,288.3 296.98,288.3" fill="#22bb22" stroke="#22bb22" stroke-width="0.9" stroke-linejoin="round"/>
<polygon points="308.8,284.88 310.7,288.3 306.9,288.3" fill="#22bb22" stroke="#22bb22" stroke-width="0.9" stroke-linejoin="round"/>
<polygon points="318.72,284.16 320.62,287.58 316.82,287.58" fill="#22bb22" stroke="#22bb22" stroke-width="0.9" stroke-linejoin="round"/>
<polygon points="328.64,283.44 330.54,286.87 326.74,286.87" fill="#22bb22" stroke="#22bb22" stroke-width="0.9" stroke-linejoin="round"/>
<polyline points="209.6,327.62 219.52,321.9 229.44,315.47 239.36,308.32 249.28,302.6 259.2,296.88 269.12,292.95 279.04,289.73 288.96,288.3 298.88,286.87 308.8,286.15 318.72,285.08 328.64,284.72" fill="none" stroke="#2020f0" stroke-width="1.2"/>
<polygon points="209.6,329.62 211.5,326.2 207.7,326.2" fill="#2020f0" stroke="#2020f0" stroke-width="0.9" stroke-linejoin="round"/>
<polygon points="219.52,323.9 221.42,320.48 217.62,320.48" fill="#2020f0" stroke="#2020f0" stroke-width="0.9" stroke-linejoin="round"/>
<polygon points="229.44,317.46 231.34,314.04 227.54,314.04" fill="#2020f0" stroke="#2020f0" stroke-width="0.9" stroke-linejoin="round"/>
<polygon points="239.36,310.31 241.26,306.89 237.46,306.89" fill="#2020f0" stroke="#2020f0" stroke-width="0.9" stroke-linejoin="round"/>
<polygon points="249.28,304.6 251.18,301.18 247.38,301.18" fill="#2020f0" stroke="#2020f0" stroke-width="0.9" stroke-linejoin="round"/>
<polygon points="259.2,298.88 261.1,295.45 257.3,295.45" fill="#2020f0" stroke="#2020f0" stroke-width="0.9" stroke-linejoin="round"/>
<polygon points="269.12,294.94 271.02,291.52 267.22,291.52" fill="#2020f0" stroke="#2020f0" stroke-width="0.9" stroke-linejoin="round"/>
<polygon points="279.04,291.73 280.94,288.31 277.14,288.31" fill="#2020f0" stroke="#2020f0" stroke-width="0.9" stroke-linejoin="round"/>
<polygon points="288.96,290.3 290.86,286.88 287.06,286.88" fill="#2020f0" stroke="#2020f0" stroke-width="0.9" stroke-linejoin="round"/>
<polygon points="298.88,288.87 300.78,285.44 296.98,285.44" fill="#2020f0" stroke="#2020f0" stroke-width="0.9" stroke-linejoin="round"/>
<polygon points="308.8,288.15 310.7,284.73 306.9,284.73" fill="#2020f0" stroke="#2020f0" stroke-width="0.9" stroke-linejoin="round"/>
<polygon points="318.72,287.08 320.62,283.66 316.82,283.66" fill="#2020f0" stroke="#2020f0" stroke-width="0.9" stroke-linejoin="round"/>
<polygon points="328.64,286.72 330.54,283.3 326.74,283.3" fill="#2020f0" stroke="#2020f0" stroke-width="0.9" stroke-linejoin="round"/>
<path d="M259.2,308.8H268.6" stroke="#111111" stroke-width="1.2"/>
<circle cx="263.9" cy="308.8" r="2" fill="#111111"/>
<text transform="translate(273.5,310.9) scale(1,1.13)" class="lg" style="font-size:5.57px">Measured Value of Shitou goose</text>
<path d="M259.2,317.4H268.6" stroke="#ff1a1a" stroke-width="1.2"/>
<rect x="261.95" y="315.45" width="3.9" height="3.9" fill="#ff1a1a"/>
<text transform="translate(273.5,319.5) scale(1,1.13)" class="lg" style="font-size:5.57px">Logistic of Shitou goose</text>
<path d="M259.2,325.9H268.6" stroke="#22bb22" stroke-width="1.2"/>
<polygon points="263.9,323.9 265.8,327.32 262,327.32" fill="#22bb22" stroke="#22bb22" stroke-width="0.9" stroke-linejoin="round"/>
<text transform="translate(273.5,328) scale(1,1.13)" class="lg" style="font-size:5.57px">Measured Value of Wuzong goose</text>
<path d="M259.2,334.5H268.6" stroke="#2020f0" stroke-width="1.2"/>
<polygon points="263.9,336.5 265.8,333.07 262,333.07" fill="#2020f0" stroke="#2020f0" stroke-width="0.9" stroke-linejoin="round"/>
<text transform="translate(273.5,336.6) scale(1,1.13)" class="lg" style="font-size:5.57px">Logistic of Wuzong goose</text>
<path d="M391.5,255.6V344.5" fill="none" stroke="#4a4a4a" stroke-width="1.25"/>
<path d="M390.9,344.5H524.75" fill="none" stroke="#333333" stroke-width="1.4"/>
<path d="M389.3,344.5H391.5M389.3,322.27H391.5M389.3,300.05H391.5M389.3,277.82H391.5M389.3,255.6H391.5M391.5,344.5V346.7M401.75,344.5V346.7M412,344.5V346.7M422.25,344.5V346.7M432.5,344.5V346.7M442.75,344.5V346.7M453,344.5V346.7M463.25,344.5V346.7M473.5,344.5V346.7M483.75,344.5V346.7M494,344.5V346.7M504.25,344.5V346.7M514.5,344.5V346.7M524.75,344.5V346.7" fill="none" stroke="#333333" stroke-width="1.1"/>
<text transform="translate(388.2,346.7) scale(1,1.12)" class="tk" text-anchor="end">0</text>
<text transform="translate(388.2,324.47) scale(1,1.12)" class="tk" text-anchor="end">3</text>
<text transform="translate(388.2,302.25) scale(1,1.12)" class="tk" text-anchor="end">6</text>
<text transform="translate(388.2,280.02) scale(1,1.12)" class="tk" text-anchor="end">9</text>
<text transform="translate(388.2,257.8) scale(1,1.12)" class="tk" text-anchor="end">12</text>
<text transform="translate(391.5,353.7) scale(1,1.12)" class="tk" text-anchor="middle">0</text>
<text transform="translate(401.75,353.7) scale(1,1.12)" class="tk" text-anchor="middle">1</text>
<text transform="translate(412,353.7) scale(1,1.12)" class="tk" text-anchor="middle">2</text>
<text transform="translate(422.25,353.7) scale(1,1.12)" class="tk" text-anchor="middle">3</text>
<text transform="translate(432.5,353.7) scale(1,1.12)" class="tk" text-anchor="middle">4</text>
<text transform="translate(442.75,353.7) scale(1,1.12)" class="tk" text-anchor="middle">5</text>
<text transform="translate(453,353.7) scale(1,1.12)" class="tk" text-anchor="middle">6</text>
<text transform="translate(463.25,353.7) scale(1,1.12)" class="tk" text-anchor="middle">7</text>
<text transform="translate(473.5,353.7) scale(1,1.12)" class="tk" text-anchor="middle">8</text>
<text transform="translate(483.75,353.7) scale(1,1.12)" class="tk" text-anchor="middle">9</text>
<text transform="translate(494,353.7) scale(1,1.12)" class="tk" text-anchor="middle">10</text>
<text transform="translate(504.25,353.7) scale(1,1.12)" class="tk" text-anchor="middle">11</text>
<text transform="translate(514.5,353.7) scale(1,1.12)" class="tk" text-anchor="middle">12</text>
<text transform="translate(524.75,353.7) scale(1,1.12)" class="tk" text-anchor="middle">13</text>
<text x="458.12" y="363" class="al" text-anchor="middle" style="font-size:7.43px">Age (Week)</text>
<text transform="translate(377.2,298.5) rotate(-90)" class="al" text-anchor="middle" style="font-size:7.4px">Tibia length (cm)</text>
<text x="368.2" y="261.6" class="lt">I</text>
<polyline points="391.5,319.31 401.75,314.13 412,305.98 422.25,297.09 432.5,288.94 442.75,283.75 453,274.86 463.25,272.64 473.5,272.64 483.75,271.53 494,270.42 504.25,268.94 514.5,268.94" fill="none" stroke="#111111" stroke-width="1.2"/>
<circle cx="391.5" cy="319.31" r="2" fill="#111111"/>
<circle cx="401.75" cy="314.13" r="2" fill="#111111"/>
<circle cx="412" cy="305.98" r="2" fill="#111111"/>
<circle cx="422.25" cy="297.09" r="2" fill="#111111"/>
<circle cx="432.5" cy="288.94" r="2" fill="#111111"/>
<circle cx="442.75" cy="283.75" r="2" fill="#111111"/>
<circle cx="453" cy="274.86" r="2" fill="#111111"/>
<circle cx="463.25" cy="272.64" r="2" fill="#111111"/>
<circle cx="473.5" cy="272.64" r="2" fill="#111111"/>
<circle cx="483.75" cy="271.53" r="2" fill="#111111"/>
<circle cx="494" cy="270.42" r="2" fill="#111111"/>
<circle cx="504.25" cy="268.94" r="2" fill="#111111"/>
<circle cx="514.5" cy="268.94" r="2" fill="#111111"/>
<polyline points="391.5,320.79 401.75,314.13 412,305.98 422.25,297.83 432.5,290.42 442.75,283.01 453,277.82 463.25,274.57 473.5,272.27 483.75,270.42 494,269.68 504.25,268.94 514.5,268.19" fill="none" stroke="#ff1a1a" stroke-width="1.2"/>
<rect x="389.55" y="318.84" width="3.9" height="3.9" fill="#ff1a1a"/>
<rect x="399.8" y="312.18" width="3.9" height="3.9" fill="#ff1a1a"/>
<rect x="410.05" y="304.03" width="3.9" height="3.9" fill="#ff1a1a"/>
<rect x="420.3" y="295.88" width="3.9" height="3.9" fill="#ff1a1a"/>
<rect x="430.55" y="288.47" width="3.9" height="3.9" fill="#ff1a1a"/>
<rect x="440.8" y="281.06" width="3.9" height="3.9" fill="#ff1a1a"/>
<rect x="451.05" y="275.88" width="3.9" height="3.9" fill="#ff1a1a"/>
<rect x="461.3" y="272.62" width="3.9" height="3.9" fill="#ff1a1a"/>
<rect x="471.55" y="270.32" width="3.9" height="3.9" fill="#ff1a1a"/>
<rect x="481.8" y="268.47" width="3.9" height="3.9" fill="#ff1a1a"/>
<rect x="492.05" y="267.73" width="3.9" height="3.9" fill="#ff1a1a"/>
<rect x="502.3" y="266.99" width="3.9" height="3.9" fill="#ff1a1a"/>
<rect x="512.55" y="266.24" width="3.9" height="3.9" fill="#ff1a1a"/>
<polyline points="391.5,323.02 401.75,315.61 412,308.2 422.25,302.27 432.5,294.86 442.75,289.68 453,286.71 463.25,285.23 473.5,284.49 483.75,283.01 494,283.01 504.25,282.27 514.5,281.53" fill="none" stroke="#22bb22" stroke-width="1.2"/>
<polygon points="391.5,321.02 393.4,324.44 389.6,324.44" fill="#22bb22" stroke="#22bb22" stroke-width="0.9" stroke-linejoin="round"/>
<polygon points="401.75,313.61 403.65,317.03 399.85,317.03" fill="#22bb22" stroke="#22bb22" stroke-width="0.9" stroke-linejoin="round"/>
<polygon points="412,306.2 413.9,309.62 410.1,309.62" fill="#22bb22" stroke="#22bb22" stroke-width="0.9" stroke-linejoin="round"/>
<polygon points="422.25,300.28 424.15,303.7 420.35,303.7" fill="#22bb22" stroke="#22bb22" stroke-width="0.9" stroke-linejoin="round"/>
<polygon points="432.5,292.87 434.4,296.29 430.6,296.29" fill="#22bb22" stroke="#22bb22" stroke-width="0.9" stroke-linejoin="round"/>
<polygon points="442.75,287.68 444.65,291.1 440.85,291.1" fill="#22bb22" stroke="#22bb22" stroke-width="0.9" stroke-linejoin="round"/>
<polygon points="453,284.72 454.9,288.14 451.1,288.14" fill="#22bb22" stroke="#22bb22" stroke-width="0.9" stroke-linejoin="round"/>
<polygon points="463.25,283.24 465.15,286.66 461.35,286.66" fill="#22bb22" stroke="#22bb22" stroke-width="0.9" stroke-linejoin="round"/>
<polygon points="473.5,282.5 475.4,285.92 471.6,285.92" fill="#22bb22" stroke="#22bb22" stroke-width="0.9" stroke-linejoin="round"/>
<polygon points="483.75,281.02 485.65,284.44 481.85,284.44" fill="#22bb22" stroke="#22bb22" stroke-width="0.9" stroke-linejoin="round"/>
<polygon points="494,281.02 495.9,284.44 492.1,284.44" fill="#22bb22" stroke="#22bb22" stroke-width="0.9" stroke-linejoin="round"/>
<polygon points="504.25,280.27 506.15,283.69 502.35,283.69" fill="#22bb22" stroke="#22bb22" stroke-width="0.9" stroke-linejoin="round"/>
<polygon points="514.5,279.53 516.4,282.95 512.6,282.95" fill="#22bb22" stroke="#22bb22" stroke-width="0.9" stroke-linejoin="round"/>
<polyline points="391.5,322.27 401.75,314.87 412,307.46 422.25,300.05 432.5,293.38 442.75,289.68 453,286.42 463.25,284.86 473.5,283.75 483.75,283.01 494,282.27 504.25,281.9 514.5,281.53" fill="none" stroke="#2020f0" stroke-width="1.2"/>
<polygon points="391.5,324.27 393.4,320.85 389.6,320.85" fill="#2020f0" stroke="#2020f0" stroke-width="0.9" stroke-linejoin="round"/>
<polygon points="401.75,316.86 403.65,313.44 399.85,313.44" fill="#2020f0" stroke="#2020f0" stroke-width="0.9" stroke-linejoin="round"/>
<polygon points="412,309.45 413.9,306.03 410.1,306.03" fill="#2020f0" stroke="#2020f0" stroke-width="0.9" stroke-linejoin="round"/>
<polygon points="422.25,302.05 424.15,298.62 420.35,298.62" fill="#2020f0" stroke="#2020f0" stroke-width="0.9" stroke-linejoin="round"/>
<polygon points="432.5,295.38 434.4,291.96 430.6,291.96" fill="#2020f0" stroke="#2020f0" stroke-width="0.9" stroke-linejoin="round"/>
<polygon points="442.75,291.67 444.65,288.25 440.85,288.25" fill="#2020f0" stroke="#2020f0" stroke-width="0.9" stroke-linejoin="round"/>
<polygon points="453,288.41 454.9,284.99 451.1,284.99" fill="#2020f0" stroke="#2020f0" stroke-width="0.9" stroke-linejoin="round"/>
<polygon points="463.25,286.86 465.15,283.44 461.35,283.44" fill="#2020f0" stroke="#2020f0" stroke-width="0.9" stroke-linejoin="round"/>
<polygon points="473.5,285.75 475.4,282.33 471.6,282.33" fill="#2020f0" stroke="#2020f0" stroke-width="0.9" stroke-linejoin="round"/>
<polygon points="483.75,285.01 485.65,281.59 481.85,281.59" fill="#2020f0" stroke="#2020f0" stroke-width="0.9" stroke-linejoin="round"/>
<polygon points="494,284.26 495.9,280.84 492.1,280.84" fill="#2020f0" stroke="#2020f0" stroke-width="0.9" stroke-linejoin="round"/>
<polygon points="504.25,283.89 506.15,280.47 502.35,280.47" fill="#2020f0" stroke="#2020f0" stroke-width="0.9" stroke-linejoin="round"/>
<polygon points="514.5,283.52 516.4,280.1 512.6,280.1" fill="#2020f0" stroke="#2020f0" stroke-width="0.9" stroke-linejoin="round"/>
<path d="M443.7,305.8H453" stroke="#111111" stroke-width="1.2"/>
<circle cx="448.35" cy="305.8" r="2" fill="#111111"/>
<text transform="translate(458.1,307.9) scale(1,1.13)" class="lg" style="font-size:5.75px">Measured Value of Shitou goose</text>
<path d="M443.7,314.6H453" stroke="#ff1a1a" stroke-width="1.2"/>
<rect x="446.4" y="312.65" width="3.9" height="3.9" fill="#ff1a1a"/>
<text transform="translate(458.1,316.7) scale(1,1.13)" class="lg" style="font-size:5.75px">Logistic of Shitou goose</text>
<path d="M443.7,323.4H453" stroke="#22bb22" stroke-width="1.2"/>
<polygon points="448.35,321.4 450.25,324.82 446.45,324.82" fill="#22bb22" stroke="#22bb22" stroke-width="0.9" stroke-linejoin="round"/>
<text transform="translate(458.1,325.5) scale(1,1.13)" class="lg" style="font-size:5.75px">Measured Value of Wuzong goose</text>
<path d="M443.7,332.3H453" stroke="#2020f0" stroke-width="1.2"/>
<polygon points="448.35,334.3 450.25,330.88 446.45,330.88" fill="#2020f0" stroke="#2020f0" stroke-width="0.9" stroke-linejoin="round"/>
<text transform="translate(458.1,334.4) scale(1,1.13)" class="lg" style="font-size:5.75px">Logistic of Wuzong goose</text>
</svg>
</body></html>
